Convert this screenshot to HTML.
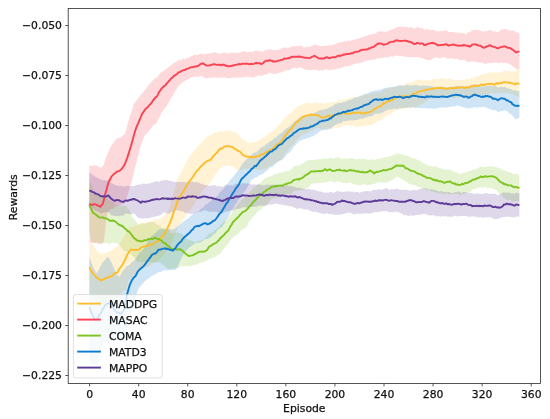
<!DOCTYPE html>
<html lang="en"><head><meta charset="utf-8"><title>Rewards vs Episode</title>
<style>html,body{margin:0;padding:0;background:#fff;}body{width:550px;height:419px;overflow:hidden;}</style>
</head><body>
<svg width="550" height="419" viewBox="0 0 550 419" style="display:block;font-family:'DejaVu Sans','Liberation Sans',sans-serif;font-size:10.8px">
<rect x="0" y="0" width="550" height="419" fill="#ffffff"/>
<defs><clipPath id="ax"><rect x="68.2" y="8.5" width="472.2" height="375.0"/></clipPath></defs>
<g clip-path="url(#ax)">
<polygon points="89.3,242.7 90.5,243.3 91.8,243.6 93.0,243.8 94.2,246.6 95.4,248.5 96.7,250.4 97.9,251.3 99.1,252.8 100.3,253.0 101.6,253.4 102.8,253.6 104.0,253.7 105.2,253.4 106.5,252.3 107.7,252.7 108.9,251.8 110.2,251.5 111.4,250.4 112.6,250.0 113.8,248.3 115.1,247.4 116.3,247.1 117.5,246.7 118.7,244.9 120.0,243.0 121.2,241.0 122.4,239.2 123.6,237.9 124.9,235.2 126.1,233.0 127.3,231.4 128.6,229.5 129.8,226.7 131.0,226.8 132.2,227.2 133.5,226.7 134.7,226.5 135.9,225.1 137.1,224.9 138.4,225.1 139.6,223.9 140.8,222.5 142.0,223.1 143.3,222.8 144.5,223.1 145.7,223.1 147.0,222.5 148.2,222.2 149.4,221.7 150.6,220.7 151.9,220.9 153.1,220.9 154.3,219.8 155.5,219.1 156.8,219.8 158.0,220.5 159.2,218.9 160.4,218.0 161.7,217.6 162.9,217.3 164.1,215.8 165.4,214.7 166.6,213.2 167.8,212.2 169.0,208.8 170.3,204.9 171.5,201.1 172.7,196.7 173.9,191.6 175.2,186.5 176.4,183.0 177.6,179.0 178.8,175.8 180.1,174.1 181.3,171.6 182.5,169.4 183.8,167.0 185.0,164.3 186.2,162.0 187.4,160.3 188.7,157.8 189.9,155.9 191.1,154.4 192.3,153.6 193.6,151.8 194.8,149.9 196.0,148.0 197.2,147.0 198.5,145.9 199.7,144.8 200.9,143.3 202.2,141.9 203.4,140.0 204.6,139.3 205.8,138.3 207.1,136.8 208.3,136.2 209.5,135.6 210.7,135.2 212.0,134.2 213.2,133.5 214.4,132.7 215.7,132.7 216.9,132.4 218.1,131.9 219.3,131.7 220.6,131.0 221.8,131.5 223.0,131.7 224.2,131.2 225.5,131.2 226.7,130.5 227.9,130.3 229.1,130.5 230.4,131.3 231.6,131.6 232.8,131.7 234.1,132.3 235.3,132.6 236.5,132.5 237.7,134.6 239.0,135.3 240.2,136.8 241.4,138.0 242.6,139.3 243.9,139.7 245.1,140.0 246.3,141.7 247.5,142.2 248.8,142.6 250.0,143.0 251.2,142.6 252.5,142.5 253.7,142.5 254.9,142.0 256.1,141.3 257.4,141.1 258.6,140.7 259.8,139.9 261.0,139.0 262.3,138.2 263.5,137.8 264.7,136.6 265.9,136.0 267.2,135.2 268.4,133.5 269.6,132.9 270.9,131.8 272.1,131.4 273.3,130.6 274.5,129.2 275.8,128.0 277.0,126.5 278.2,125.3 279.4,124.0 280.7,123.0 281.9,121.4 283.1,119.9 284.3,117.9 285.6,117.3 286.8,116.6 288.0,114.6 289.3,114.0 290.5,113.1 291.7,112.3 292.9,111.0 294.2,109.6 295.4,108.5 296.6,107.1 297.8,106.5 299.1,106.1 300.3,105.2 301.5,105.1 302.7,104.3 304.0,104.2 305.2,103.3 306.4,102.8 307.7,102.7 308.9,102.9 310.1,103.3 311.3,103.0 312.6,103.5 313.8,103.1 315.0,102.3 316.2,102.5 317.5,102.9 318.7,102.9 319.9,103.1 321.1,102.7 322.4,103.0 323.6,103.7 324.8,103.8 326.1,103.2 327.3,102.8 328.5,102.6 329.7,102.9 331.0,102.7 332.2,102.6 333.4,101.9 334.6,101.7 335.9,101.5 337.1,101.4 338.3,100.3 339.5,100.0 340.8,99.9 342.0,100.3 343.2,99.1 344.5,99.0 345.7,99.3 346.9,98.9 348.1,98.5 349.4,97.6 350.6,97.9 351.8,97.0 353.0,96.9 354.3,97.0 355.5,97.0 356.7,97.3 357.9,96.6 359.2,95.9 360.4,95.9 361.6,95.9 362.9,95.1 364.1,95.2 365.3,94.5 366.5,94.4 367.8,94.0 369.0,94.5 370.2,94.3 371.4,93.6 372.7,93.0 373.9,92.9 375.1,92.4 376.3,92.3 377.6,92.1 378.8,92.1 380.0,92.6 381.3,91.6 382.5,90.7 383.7,89.9 384.9,89.8 386.2,89.1 387.4,88.6 388.6,88.1 389.8,88.3 391.1,87.5 392.3,88.1 393.5,87.1 394.7,86.8 396.0,86.3 397.2,85.9 398.4,86.0 399.7,85.9 400.9,85.5 402.1,85.6 403.3,84.8 404.6,84.1 405.8,84.1 407.0,83.2 408.2,83.1 409.5,83.2 410.7,82.6 411.9,82.1 413.1,81.1 414.4,81.0 415.6,80.5 416.8,80.1 418.1,79.5 419.3,79.7 420.5,79.5 421.7,79.8 423.0,80.0 424.2,80.4 425.4,79.8 426.6,80.4 427.9,80.0 429.1,79.8 430.3,79.8 431.5,80.1 432.8,79.5 434.0,78.6 435.2,79.0 436.5,78.9 437.7,78.5 438.9,79.0 440.1,78.7 441.4,78.1 442.6,78.3 443.8,78.2 445.0,78.7 446.3,78.7 447.5,78.7 448.7,78.8 449.9,78.1 451.2,78.5 452.4,79.5 453.6,79.4 454.9,80.1 456.1,79.8 457.3,80.3 458.5,80.1 459.8,79.7 461.0,79.7 462.2,79.8 463.4,79.8 464.7,79.9 465.9,79.1 467.1,78.3 468.4,79.3 469.6,78.9 470.8,78.4 472.0,78.1 473.3,77.6 474.5,77.2 475.7,76.7 476.9,76.3 478.2,75.9 479.4,76.0 480.6,74.6 481.8,74.5 483.1,74.5 484.3,74.3 485.5,73.9 486.8,73.2 488.0,72.8 489.2,72.5 490.4,71.9 491.7,72.5 492.9,72.3 494.1,72.8 495.3,72.9 496.6,72.2 497.8,73.3 499.0,72.5 500.2,72.3 501.5,73.0 502.7,71.4 503.9,70.6 505.2,70.6 506.4,70.7 507.6,70.8 508.8,71.3 510.1,70.9 511.3,71.4 512.5,71.5 513.7,71.2 515.0,71.9 516.2,70.5 517.4,69.5 519.4,69.7 519.4,97.2 517.4,95.8 516.2,96.1 515.0,95.8 513.7,94.5 512.5,94.1 511.3,94.0 510.1,93.4 508.8,92.9 507.6,93.0 506.4,93.3 505.2,92.6 503.9,92.7 502.7,93.6 501.5,94.2 500.2,92.6 499.0,93.2 497.8,93.3 496.6,92.8 495.3,93.2 494.1,93.8 492.9,93.1 491.7,93.3 490.4,93.0 489.2,93.9 488.0,94.3 486.8,94.5 485.5,95.1 484.3,95.3 483.1,95.6 481.8,95.3 480.6,95.5 479.4,96.0 478.2,96.8 476.9,96.0 475.7,95.9 474.5,96.0 473.3,96.1 472.0,96.6 470.8,96.9 469.6,96.8 468.4,96.8 467.1,97.0 465.9,97.7 464.7,98.4 463.4,98.0 462.2,97.7 461.0,97.4 459.8,97.2 458.5,97.2 457.3,97.2 456.1,97.8 454.9,98.1 453.6,98.3 452.4,98.1 451.2,97.6 449.9,97.2 448.7,98.3 447.5,98.1 446.3,97.5 445.0,97.9 443.8,98.5 442.6,98.7 441.4,98.4 440.1,98.2 438.9,98.7 437.7,98.7 436.5,98.8 435.2,98.9 434.0,98.8 432.8,98.6 431.5,98.8 430.3,99.3 429.1,99.1 427.9,99.9 426.6,101.1 425.4,101.8 424.2,103.0 423.0,103.6 421.7,104.4 420.5,104.8 419.3,105.4 418.1,106.3 416.8,106.7 415.6,106.9 414.4,107.2 413.1,106.8 411.9,107.7 410.7,108.3 409.5,108.2 408.2,108.2 407.0,107.8 405.8,107.9 404.6,108.2 403.3,108.3 402.1,109.4 400.9,109.4 399.7,109.9 398.4,109.8 397.2,109.9 396.0,110.9 394.7,111.2 393.5,111.8 392.3,112.9 391.1,113.6 389.8,114.1 388.6,114.7 387.4,115.0 386.2,116.3 384.9,117.6 383.7,117.7 382.5,119.3 381.3,120.0 380.0,120.6 378.8,121.3 377.6,121.3 376.3,122.4 375.1,122.7 373.9,123.7 372.7,124.4 371.4,125.3 370.2,124.9 369.0,125.6 367.8,125.3 366.5,125.9 365.3,125.5 364.1,125.7 362.9,126.1 361.6,126.6 360.4,126.6 359.2,126.7 357.9,126.3 356.7,126.8 355.5,127.4 354.3,126.3 353.0,125.5 351.8,125.8 350.6,125.8 349.4,126.1 348.1,125.2 346.9,125.2 345.7,125.7 344.5,124.9 343.2,125.4 342.0,126.4 340.8,127.1 339.5,127.5 338.3,127.5 337.1,128.0 335.9,127.4 334.6,127.3 333.4,127.9 332.2,129.0 331.0,129.2 329.7,129.2 328.5,128.3 327.3,128.6 326.1,128.4 324.8,129.1 323.6,129.3 322.4,129.6 321.1,128.7 319.9,128.2 318.7,127.8 317.5,127.7 316.2,127.9 315.0,128.4 313.8,129.7 312.6,130.5 311.3,130.2 310.1,131.3 308.9,132.3 307.7,132.4 306.4,133.4 305.2,133.7 304.0,134.7 302.7,134.2 301.5,136.0 300.3,136.5 299.1,138.1 297.8,139.2 296.6,139.8 295.4,141.5 294.2,143.3 292.9,144.7 291.7,146.2 290.5,147.2 289.3,148.1 288.0,150.5 286.8,152.4 285.6,152.8 284.3,154.6 283.1,156.7 281.9,158.9 280.7,160.3 279.4,161.1 278.2,161.6 277.0,161.8 275.8,162.0 274.5,163.3 273.3,164.6 272.1,165.6 270.9,165.8 269.6,166.5 268.4,166.8 267.2,168.1 265.9,168.1 264.7,168.7 263.5,169.0 262.3,169.2 261.0,169.4 259.8,170.1 258.6,169.7 257.4,169.6 256.1,169.4 254.9,168.7 253.7,168.7 252.5,168.6 251.2,167.9 250.0,167.8 248.8,168.3 247.5,168.9 246.3,168.9 245.1,168.6 243.9,168.5 242.6,170.0 241.4,170.2 240.2,170.1 239.0,170.0 237.7,170.7 236.5,168.9 235.3,168.9 234.1,167.5 232.8,166.8 231.6,166.3 230.4,166.1 229.1,165.5 227.9,165.6 226.7,165.7 225.5,166.0 224.2,165.9 223.0,166.6 221.8,167.9 220.6,167.8 219.3,169.0 218.1,171.0 216.9,172.7 215.7,174.3 214.4,176.5 213.2,178.5 212.0,179.9 210.7,182.0 209.5,183.0 208.3,184.4 207.1,185.7 205.8,187.3 204.6,188.3 203.4,189.7 202.2,191.3 200.9,193.6 199.7,195.5 198.5,197.5 197.2,198.7 196.0,200.5 194.8,202.6 193.6,204.9 192.3,206.7 191.1,208.4 189.9,210.1 188.7,211.5 187.4,213.6 186.2,215.3 185.0,217.4 183.8,219.0 182.5,220.6 181.3,222.9 180.1,224.5 178.8,225.4 177.6,227.8 176.4,231.4 175.2,234.2 173.9,236.4 172.7,240.2 171.5,242.9 170.3,244.8 169.0,246.8 167.8,249.2 166.6,251.0 165.4,252.9 164.1,254.1 162.9,256.1 161.7,256.7 160.4,258.0 159.2,259.3 158.0,260.9 156.8,261.3 155.5,262.1 154.3,263.1 153.1,263.3 151.9,263.9 150.6,265.0 149.4,265.9 148.2,266.0 147.0,266.9 145.7,267.5 144.5,267.5 143.3,267.5 142.0,268.6 140.8,269.6 139.6,270.8 138.4,272.3 137.1,272.7 135.9,273.1 134.7,274.3 133.5,275.3 132.2,277.1 131.0,278.3 129.8,278.8 128.6,281.1 127.3,285.3 126.1,290.2 124.9,290.4 123.6,290.0 122.4,291.6 121.2,293.3 120.0,295.0 118.7,296.4 117.5,298.0 116.3,298.1 115.1,298.3 113.8,299.4 112.6,301.7 111.4,301.4 110.2,302.0 108.9,303.0 107.7,303.5 106.5,303.6 105.2,305.1 104.0,305.8 102.8,305.8 101.6,306.3 100.3,305.9 99.1,304.5 97.9,303.3 96.7,302.6 95.4,300.9 94.2,299.9 93.0,298.1 91.8,296.6 90.5,294.1 89.3,291.9" fill="#fdbe2e" fill-opacity="0.2" stroke="none"/>
<polygon points="89.3,165.4 90.5,165.4 91.8,166.1 93.0,165.6 94.2,165.3 95.4,165.3 96.7,165.3 97.9,166.4 99.1,166.7 100.3,167.7 101.6,167.3 102.8,166.5 104.0,163.5 105.2,159.4 106.5,156.6 107.7,153.8 108.9,150.5 110.2,147.7 111.4,145.5 112.6,144.2 113.8,141.9 115.1,140.3 116.3,139.2 117.5,138.1 118.7,138.3 120.0,137.7 121.2,136.9 122.4,135.7 123.6,134.8 124.9,134.1 126.1,129.9 127.3,125.2 128.6,120.6 129.8,116.4 131.0,113.4 132.2,109.7 133.5,105.0 134.7,102.6 135.9,101.7 137.1,99.9 138.4,98.1 139.6,96.8 140.8,94.4 142.0,93.4 143.3,92.1 144.5,90.3 145.7,89.2 147.0,87.2 148.2,85.6 149.4,84.3 150.6,82.8 151.9,81.5 153.1,80.0 154.3,78.9 155.5,78.0 156.8,77.8 158.0,76.2 159.2,74.2 160.4,73.0 161.7,71.8 162.9,71.3 164.1,70.5 165.4,69.7 166.6,69.1 167.8,67.6 169.0,66.7 170.3,66.0 171.5,64.8 172.7,64.3 173.9,62.7 175.2,62.6 176.4,61.9 177.6,60.8 178.8,60.1 180.1,60.2 181.3,59.4 182.5,59.2 183.8,58.4 185.0,59.4 186.2,58.1 187.4,57.8 188.7,57.7 189.9,56.8 191.1,56.3 192.3,55.9 193.6,55.2 194.8,54.7 196.0,54.7 197.2,55.2 198.5,54.5 199.7,53.9 200.9,53.5 202.2,53.6 203.4,54.2 204.6,54.2 205.8,53.7 207.1,53.8 208.3,53.8 209.5,53.5 210.7,53.0 212.0,53.1 213.2,52.7 214.4,52.2 215.7,52.4 216.9,52.8 218.1,53.4 219.3,53.8 220.6,54.0 221.8,52.9 223.0,52.7 224.2,52.3 225.5,53.0 226.7,53.1 227.9,53.6 229.1,53.3 230.4,52.7 231.6,53.0 232.8,52.4 234.1,52.7 235.3,52.7 236.5,52.9 237.7,52.5 239.0,52.5 240.2,52.8 241.4,51.9 242.6,51.6 243.9,51.1 245.1,51.4 246.3,52.1 247.5,51.9 248.8,52.0 250.0,51.8 251.2,51.6 252.5,52.0 253.7,51.5 254.9,50.8 256.1,50.5 257.4,50.8 258.6,51.0 259.8,51.1 261.0,51.8 262.3,51.5 263.5,51.2 264.7,50.5 265.9,49.7 267.2,49.5 268.4,49.8 269.6,49.3 270.9,49.5 272.1,49.5 273.3,50.1 274.5,49.9 275.8,50.1 277.0,50.2 278.2,49.8 279.4,49.3 280.7,48.8 281.9,48.1 283.1,48.0 284.3,47.2 285.6,47.6 286.8,48.0 288.0,47.4 289.3,47.8 290.5,47.1 291.7,46.4 292.9,46.3 294.2,45.9 295.4,46.3 296.6,46.1 297.8,46.2 299.1,46.1 300.3,45.5 301.5,45.9 302.7,46.5 304.0,47.3 305.2,47.3 306.4,47.1 307.7,46.8 308.9,46.9 310.1,46.7 311.3,46.1 312.6,46.0 313.8,44.7 315.0,44.6 316.2,45.1 317.5,45.5 318.7,45.8 319.9,46.0 321.1,46.2 322.4,46.3 323.6,46.1 324.8,45.9 326.1,45.4 327.3,45.6 328.5,45.6 329.7,45.3 331.0,45.3 332.2,45.2 333.4,44.5 334.6,44.3 335.9,44.2 337.1,43.1 338.3,42.6 339.5,42.8 340.8,42.5 342.0,42.3 343.2,41.7 344.5,41.3 345.7,41.6 346.9,40.9 348.1,40.4 349.4,41.2 350.6,40.7 351.8,40.3 353.0,40.1 354.3,39.5 355.5,39.6 356.7,39.1 357.9,38.8 359.2,38.2 360.4,38.0 361.6,37.4 362.9,37.1 364.1,36.9 365.3,36.0 366.5,36.0 367.8,35.5 369.0,34.6 370.2,34.6 371.4,34.6 372.7,33.9 373.9,34.1 375.1,33.4 376.3,33.0 377.6,31.4 378.8,31.4 380.0,31.4 381.3,31.1 382.5,31.4 383.7,31.5 384.9,31.8 386.2,31.7 387.4,31.2 388.6,31.1 389.8,29.9 391.1,29.7 392.3,29.3 393.5,28.7 394.7,28.5 396.0,27.2 397.2,26.7 398.4,27.1 399.7,26.4 400.9,26.5 402.1,26.8 403.3,26.7 404.6,26.7 405.8,26.9 407.0,26.8 408.2,27.5 409.5,27.4 410.7,27.1 411.9,27.6 413.1,28.2 414.4,28.4 415.6,28.2 416.8,27.1 418.1,27.1 419.3,27.9 420.5,28.2 421.7,28.0 423.0,28.3 424.2,30.1 425.4,29.4 426.6,29.1 427.9,29.3 429.1,29.8 430.3,29.8 431.5,29.9 432.8,29.7 434.0,30.1 435.2,30.7 436.5,31.1 437.7,31.5 438.9,31.2 440.1,31.0 441.4,31.2 442.6,30.7 443.8,30.7 445.0,30.5 446.3,30.1 447.5,31.3 448.7,31.7 449.9,31.9 451.2,31.9 452.4,31.9 453.6,32.0 454.9,32.5 456.1,32.9 457.3,32.3 458.5,32.8 459.8,33.2 461.0,33.1 462.2,33.1 463.4,33.0 464.7,33.8 465.9,34.4 467.1,33.2 468.4,32.1 469.6,32.5 470.8,31.4 472.0,30.2 473.3,30.3 474.5,29.9 475.7,29.8 476.9,30.0 478.2,30.1 479.4,30.5 480.6,30.8 481.8,31.3 483.1,31.8 484.3,31.6 485.5,30.9 486.8,31.0 488.0,30.9 489.2,30.1 490.4,29.9 491.7,30.6 492.9,31.4 494.1,31.3 495.3,31.5 496.6,32.0 497.8,32.0 499.0,31.7 500.2,30.2 501.5,29.3 502.7,29.8 503.9,29.1 505.2,29.0 506.4,29.1 507.6,29.6 508.8,30.2 510.1,30.5 511.3,31.1 512.5,30.6 513.7,30.9 515.0,31.3 516.2,32.6 517.4,32.4 519.4,33.3 519.4,69.6 517.4,69.3 516.2,68.6 515.0,68.0 513.7,67.2 512.5,66.2 511.3,65.2 510.1,64.6 508.8,63.8 507.6,63.4 506.4,62.8 505.2,62.8 503.9,62.9 502.7,62.9 501.5,62.8 500.2,62.8 499.0,63.2 497.8,63.1 496.6,62.5 495.3,62.8 494.1,62.7 492.9,63.1 491.7,63.2 490.4,62.9 489.2,62.7 488.0,63.3 486.8,63.5 485.5,64.1 484.3,63.8 483.1,63.3 481.8,62.6 480.6,62.6 479.4,62.8 478.2,62.3 476.9,62.3 475.7,61.5 474.5,61.9 473.3,62.0 472.0,61.0 470.8,61.5 469.6,62.2 468.4,61.7 467.1,61.9 465.9,60.8 464.7,59.9 463.4,59.6 462.2,60.1 461.0,59.9 459.8,60.2 458.5,59.4 457.3,58.7 456.1,58.7 454.9,59.5 453.6,58.4 452.4,58.4 451.2,58.6 449.9,58.4 448.7,58.6 447.5,58.8 446.3,57.9 445.0,57.5 443.8,57.2 442.6,57.5 441.4,57.9 440.1,58.3 438.9,58.1 437.7,58.0 436.5,57.6 435.2,57.5 434.0,58.1 432.8,58.7 431.5,59.4 430.3,60.2 429.1,59.9 427.9,60.2 426.6,59.8 425.4,59.2 424.2,58.8 423.0,58.1 421.7,58.4 420.5,57.9 419.3,57.6 418.1,57.1 416.8,56.8 415.6,57.5 414.4,56.8 413.1,57.4 411.9,57.3 410.7,56.9 409.5,57.0 408.2,56.9 407.0,56.7 405.8,57.0 404.6,56.4 403.3,56.4 402.1,56.5 400.9,55.9 399.7,55.9 398.4,55.8 397.2,55.6 396.0,55.6 394.7,55.8 393.5,56.7 392.3,56.5 391.1,56.3 389.8,56.7 388.6,57.1 387.4,57.8 386.2,57.3 384.9,57.4 383.7,57.8 382.5,58.0 381.3,57.8 380.0,58.5 378.8,58.2 377.6,58.1 376.3,58.8 375.1,59.2 373.9,59.4 372.7,59.5 371.4,59.9 370.2,60.6 369.0,60.2 367.8,60.2 366.5,60.7 365.3,61.1 364.1,61.8 362.9,62.2 361.6,62.5 360.4,62.7 359.2,63.5 357.9,63.3 356.7,63.3 355.5,63.5 354.3,63.9 353.0,64.6 351.8,65.2 350.6,65.5 349.4,66.1 348.1,66.4 346.9,66.1 345.7,66.3 344.5,66.4 343.2,67.2 342.0,67.6 340.8,68.2 339.5,68.5 338.3,68.3 337.1,69.0 335.9,69.2 334.6,69.5 333.4,69.4 332.2,69.6 331.0,69.5 329.7,70.5 328.5,70.1 327.3,69.3 326.1,69.5 324.8,69.2 323.6,70.6 322.4,70.4 321.1,70.0 319.9,70.6 318.7,71.2 317.5,70.3 316.2,69.9 315.0,69.7 313.8,69.8 312.6,69.8 311.3,69.9 310.1,70.0 308.9,70.1 307.7,70.1 306.4,69.5 305.2,69.8 304.0,69.1 302.7,68.6 301.5,67.9 300.3,67.4 299.1,67.4 297.8,68.1 296.6,68.2 295.4,67.6 294.2,67.7 292.9,68.3 291.7,68.4 290.5,69.4 289.3,70.2 288.0,69.7 286.8,70.3 285.6,70.9 284.3,70.7 283.1,71.7 281.9,72.3 280.7,72.6 279.4,72.8 278.2,73.1 277.0,73.5 275.8,73.8 274.5,73.9 273.3,74.1 272.1,73.1 270.9,73.5 269.6,72.6 268.4,73.2 267.2,74.4 265.9,74.2 264.7,74.7 263.5,75.2 262.3,75.8 261.0,75.9 259.8,75.2 258.6,75.2 257.4,76.1 256.1,76.0 254.9,77.0 253.7,77.5 252.5,77.5 251.2,76.7 250.0,77.3 248.8,77.0 247.5,76.8 246.3,77.1 245.1,77.1 243.9,77.2 242.6,77.2 241.4,77.2 240.2,77.8 239.0,77.2 237.7,77.4 236.5,77.4 235.3,77.7 234.1,77.4 232.8,77.8 231.6,77.8 230.4,78.3 229.1,78.2 227.9,78.3 226.7,78.0 225.5,77.8 224.2,77.2 223.0,77.6 221.8,77.5 220.6,78.2 219.3,77.2 218.1,77.7 216.9,78.0 215.7,77.4 214.4,77.4 213.2,77.4 212.0,77.5 210.7,78.2 209.5,77.8 208.3,78.1 207.1,78.3 205.8,78.1 204.6,78.4 203.4,77.0 202.2,76.2 200.9,75.9 199.7,76.4 198.5,76.8 197.2,77.1 196.0,76.5 194.8,76.7 193.6,76.8 192.3,77.5 191.1,77.6 189.9,78.2 188.7,79.2 187.4,79.6 186.2,80.1 185.0,81.1 183.8,81.8 182.5,82.8 181.3,83.7 180.1,84.4 178.8,85.4 177.6,87.1 176.4,89.7 175.2,91.0 173.9,93.1 172.7,96.0 171.5,97.6 170.3,99.5 169.0,101.9 167.8,104.1 166.6,105.9 165.4,107.9 164.1,109.2 162.9,110.7 161.7,112.4 160.4,115.6 159.2,117.5 158.0,120.1 156.8,122.5 155.5,124.0 154.3,124.7 153.1,125.4 151.9,126.9 150.6,128.7 149.4,130.4 148.2,132.0 147.0,133.3 145.7,134.8 144.5,135.7 143.3,138.5 142.0,142.6 140.8,145.7 139.6,150.1 138.4,155.2 137.1,159.7 135.9,164.7 134.7,169.0 133.5,174.2 132.2,179.4 131.0,183.7 129.8,187.7 128.6,191.6 127.3,196.1 126.1,198.9 124.9,202.6 123.6,203.7 122.4,203.5 121.2,204.5 120.0,205.3 118.7,205.4 117.5,206.4 116.3,206.3 115.1,206.8 113.8,208.1 112.6,208.9 111.4,208.9 110.2,209.4 108.9,210.6 107.7,212.5 106.5,217.6 105.2,228.7 104.0,240.8 102.8,243.4 101.6,244.1 100.3,244.3 99.1,243.4 97.9,243.9 96.7,243.1 95.4,243.2 94.2,242.5 93.0,242.8 91.8,242.9 90.5,242.6 89.3,242.1" fill="#fa4250" fill-opacity="0.2" stroke="none"/>
<polygon points="89.3,179.1 90.5,182.2 91.8,185.6 93.0,189.5 94.2,192.1 95.4,193.1 96.7,193.0 97.9,193.9 99.1,195.2 100.3,195.5 101.6,195.6 102.8,196.1 104.0,196.3 105.2,196.1 106.5,196.3 107.7,197.9 108.9,199.4 110.2,200.9 111.4,201.2 112.6,202.1 113.8,202.9 115.1,204.1 116.3,205.0 117.5,205.6 118.7,205.1 120.0,205.7 121.2,205.4 122.4,205.4 123.6,206.1 124.9,205.8 126.1,205.8 127.3,207.7 128.6,209.1 129.8,211.3 131.0,214.4 132.2,216.6 133.5,218.3 134.7,219.7 135.9,221.2 137.1,222.8 138.4,224.4 139.6,224.8 140.8,224.2 142.0,223.8 143.3,223.3 144.5,223.4 145.7,223.6 147.0,222.9 148.2,222.1 149.4,222.4 150.6,222.1 151.9,222.4 153.1,222.1 154.3,222.6 155.5,223.2 156.8,224.7 158.0,224.9 159.2,225.6 160.4,226.1 161.7,228.0 162.9,229.1 164.1,229.4 165.4,230.1 166.6,230.4 167.8,230.1 169.0,231.2 170.3,232.4 171.5,232.9 172.7,233.2 173.9,233.2 175.2,232.5 176.4,232.3 177.6,232.5 178.8,233.1 180.1,232.9 181.3,233.4 182.5,234.6 183.8,236.2 185.0,237.2 186.2,238.3 187.4,239.3 188.7,240.2 189.9,240.3 191.1,240.5 192.3,241.1 193.6,241.6 194.8,242.1 196.0,242.1 197.2,241.4 198.5,240.6 199.7,240.7 200.9,240.4 202.2,239.9 203.4,239.4 204.6,238.5 205.8,237.5 207.1,236.3 208.3,234.3 209.5,233.3 210.7,233.2 212.0,232.6 213.2,231.5 214.4,230.7 215.7,229.4 216.9,228.7 218.1,227.3 219.3,226.6 220.6,224.6 221.8,223.9 223.0,222.6 224.2,221.4 225.5,220.5 226.7,219.2 227.9,218.4 229.1,216.7 230.4,214.4 231.6,213.2 232.8,210.8 234.1,208.8 235.3,207.5 236.5,206.4 237.7,204.6 239.0,203.0 240.2,201.9 241.4,200.3 242.6,198.9 243.9,198.0 245.1,197.6 246.3,196.4 247.5,195.5 248.8,193.1 250.0,191.6 251.2,190.8 252.5,189.2 253.7,187.9 254.9,186.9 256.1,186.4 257.4,184.7 258.6,183.5 259.8,183.1 261.0,182.7 262.3,180.8 263.5,179.6 264.7,178.5 265.9,178.2 267.2,177.3 268.4,176.7 269.6,176.6 270.9,176.6 272.1,175.7 273.3,174.8 274.5,174.4 275.8,173.3 277.0,174.1 278.2,173.3 279.4,172.3 280.7,172.2 281.9,173.1 283.1,172.5 284.3,171.2 285.6,171.4 286.8,171.1 288.0,171.2 289.3,171.0 290.5,169.7 291.7,169.1 292.9,167.8 294.2,166.3 295.4,166.0 296.6,165.8 297.8,165.7 299.1,165.4 300.3,164.8 301.5,164.3 302.7,163.6 304.0,162.8 305.2,161.6 306.4,160.7 307.7,160.4 308.9,160.1 310.1,160.1 311.3,160.0 312.6,159.7 313.8,160.1 315.0,159.7 316.2,159.9 317.5,159.2 318.7,158.9 319.9,159.2 321.1,159.1 322.4,159.1 323.6,158.6 324.8,157.6 326.1,158.7 327.3,158.9 328.5,158.8 329.7,158.0 331.0,157.8 332.2,158.5 333.4,158.1 334.6,158.5 335.9,157.6 337.1,157.6 338.3,157.5 339.5,157.1 340.8,158.4 342.0,158.9 343.2,158.6 344.5,158.4 345.7,158.6 346.9,158.7 348.1,158.7 349.4,158.5 350.6,158.1 351.8,158.2 353.0,158.5 354.3,158.5 355.5,159.0 356.7,159.8 357.9,159.0 359.2,159.1 360.4,159.1 361.6,159.2 362.9,158.6 364.1,159.0 365.3,158.7 366.5,159.5 367.8,159.8 369.0,160.0 370.2,159.2 371.4,159.6 372.7,159.2 373.9,159.9 375.1,159.9 376.3,159.0 377.6,159.2 378.8,159.0 380.0,158.5 381.3,158.4 382.5,157.7 383.7,157.5 384.9,157.2 386.2,157.3 387.4,156.9 388.6,156.2 389.8,156.1 391.1,156.0 392.3,155.6 393.5,154.5 394.7,154.7 396.0,153.7 397.2,153.4 398.4,153.4 399.7,154.2 400.9,154.2 402.1,154.6 403.3,154.7 404.6,155.4 405.8,155.8 407.0,155.5 408.2,156.3 409.5,157.0 410.7,157.8 411.9,158.1 413.1,158.5 414.4,158.0 415.6,159.1 416.8,159.5 418.1,159.9 419.3,160.2 420.5,161.0 421.7,162.0 423.0,163.0 424.2,163.7 425.4,163.4 426.6,165.0 427.9,165.3 429.1,165.8 430.3,165.8 431.5,166.3 432.8,166.6 434.0,166.8 435.2,166.6 436.5,166.8 437.7,166.9 438.9,168.0 440.1,168.3 441.4,168.6 442.6,168.9 443.8,169.3 445.0,170.0 446.3,169.4 447.5,169.7 448.7,169.4 449.9,169.7 451.2,170.5 452.4,171.1 453.6,171.6 454.9,171.8 456.1,172.4 457.3,172.5 458.5,173.5 459.8,173.9 461.0,173.9 462.2,172.8 463.4,173.3 464.7,172.4 465.9,171.9 467.1,171.7 468.4,171.8 469.6,170.8 470.8,170.7 472.0,169.9 473.3,169.7 474.5,169.7 475.7,169.1 476.9,168.8 478.2,168.1 479.4,167.3 480.6,166.5 481.8,166.9 483.1,167.4 484.3,167.2 485.5,166.6 486.8,166.7 488.0,166.5 489.2,166.3 490.4,166.5 491.7,166.6 492.9,166.2 494.1,166.4 495.3,167.2 496.6,167.3 497.8,167.8 499.0,168.2 500.2,168.6 501.5,169.3 502.7,169.9 503.9,170.6 505.2,170.5 506.4,171.2 507.6,171.6 508.8,172.1 510.1,172.4 511.3,172.6 512.5,173.7 513.7,174.0 515.0,174.3 516.2,174.1 517.4,174.1 519.4,175.1 519.4,201.6 517.4,201.0 516.2,200.9 515.0,201.2 513.7,201.6 512.5,201.4 511.3,200.6 510.1,200.2 508.8,199.6 507.6,199.7 506.4,199.9 505.2,198.6 503.9,198.2 502.7,196.4 501.5,195.3 500.2,194.2 499.0,193.0 497.8,191.9 496.6,190.3 495.3,189.8 494.1,189.1 492.9,188.7 491.7,188.0 490.4,188.1 489.2,187.7 488.0,188.0 486.8,188.0 485.5,186.7 484.3,187.1 483.1,187.5 481.8,187.5 480.6,187.0 479.4,187.9 478.2,187.6 476.9,188.4 475.7,188.6 474.5,189.1 473.3,189.3 472.0,190.1 470.8,191.2 469.6,192.0 468.4,193.3 467.1,193.1 465.9,193.0 464.7,193.8 463.4,194.0 462.2,194.1 461.0,194.7 459.8,195.2 458.5,194.1 457.3,193.9 456.1,194.4 454.9,193.6 453.6,194.2 452.4,194.3 451.2,194.0 449.9,193.9 448.7,194.6 447.5,193.6 446.3,193.6 445.0,194.6 443.8,194.4 442.6,193.5 441.4,193.5 440.1,193.6 438.9,193.6 437.7,192.9 436.5,192.8 435.2,192.4 434.0,191.9 432.8,191.6 431.5,191.2 430.3,190.3 429.1,190.2 427.9,190.3 426.6,190.3 425.4,189.1 424.2,188.8 423.0,188.6 421.7,187.6 420.5,187.7 419.3,187.4 418.1,186.8 416.8,186.1 415.6,185.4 414.4,185.2 413.1,184.8 411.9,184.6 410.7,184.4 409.5,184.4 408.2,183.0 407.0,181.9 405.8,181.5 404.6,181.4 403.3,180.0 402.1,179.3 400.9,179.3 399.7,177.8 398.4,177.3 397.2,176.7 396.0,177.1 394.7,178.4 393.5,179.5 392.3,179.9 391.1,180.7 389.8,181.0 388.6,181.7 387.4,182.6 386.2,182.8 384.9,182.4 383.7,182.5 382.5,182.7 381.3,182.1 380.0,182.2 378.8,182.3 377.6,182.6 376.3,182.6 375.1,183.8 373.9,184.1 372.7,183.9 371.4,184.8 370.2,184.4 369.0,184.8 367.8,185.2 366.5,184.7 365.3,184.7 364.1,184.0 362.9,183.9 361.6,184.9 360.4,185.1 359.2,185.2 357.9,184.7 356.7,185.0 355.5,184.4 354.3,184.2 353.0,183.8 351.8,183.4 350.6,182.2 349.4,182.6 348.1,182.8 346.9,183.5 345.7,183.0 344.5,183.0 343.2,183.3 342.0,182.7 340.8,182.3 339.5,181.7 338.3,181.9 337.1,181.3 335.9,181.8 334.6,182.5 333.4,182.2 332.2,181.6 331.0,181.0 329.7,180.9 328.5,181.5 327.3,182.5 326.1,182.3 324.8,181.9 323.6,182.9 322.4,182.8 321.1,183.0 319.9,183.1 318.7,183.3 317.5,182.7 316.2,183.0 315.0,183.4 313.8,183.8 312.6,183.2 311.3,183.8 310.1,185.4 308.9,187.3 307.7,188.5 306.4,188.1 305.2,188.7 304.0,189.7 302.7,189.8 301.5,190.2 300.3,189.9 299.1,190.7 297.8,190.4 296.6,190.8 295.4,190.5 294.2,191.1 292.9,192.2 291.7,193.3 290.5,193.6 289.3,194.0 288.0,194.3 286.8,194.1 285.6,194.9 284.3,195.1 283.1,196.3 281.9,196.6 280.7,196.0 279.4,196.9 278.2,197.0 277.0,197.6 275.8,197.4 274.5,197.9 273.3,198.4 272.1,197.7 270.9,199.7 269.6,201.1 268.4,202.7 267.2,203.9 265.9,204.6 264.7,205.4 263.5,206.1 262.3,208.3 261.0,209.4 259.8,210.1 258.6,210.8 257.4,212.0 256.1,213.8 254.9,214.6 253.7,215.9 252.5,216.9 251.2,219.5 250.0,220.1 248.8,222.2 247.5,225.0 246.3,227.0 245.1,228.3 243.9,228.2 242.6,229.4 241.4,230.8 240.2,231.2 239.0,233.0 237.7,234.2 236.5,234.9 235.3,235.7 234.1,236.4 232.8,237.6 231.6,239.0 230.4,240.1 229.1,242.3 227.9,244.1 226.7,244.8 225.5,246.7 224.2,248.4 223.0,249.8 221.8,251.4 220.6,252.9 219.3,255.2 218.1,254.6 216.9,255.4 215.7,256.8 214.4,257.5 213.2,257.2 212.0,258.0 210.7,258.8 209.5,258.8 208.3,259.4 207.1,260.5 205.8,260.9 204.6,261.6 203.4,262.4 202.2,262.2 200.9,262.8 199.7,263.3 198.5,263.4 197.2,264.4 196.0,264.9 194.8,264.4 193.6,264.8 192.3,265.5 191.1,266.0 189.9,265.7 188.7,266.4 187.4,265.9 186.2,266.3 185.0,266.1 183.8,266.2 182.5,265.8 181.3,266.5 180.1,266.4 178.8,267.8 177.6,267.9 176.4,268.2 175.2,268.2 173.9,268.4 172.7,268.5 171.5,268.8 170.3,269.2 169.0,269.4 167.8,268.6 166.6,267.9 165.4,266.7 164.1,265.7 162.9,265.0 161.7,264.0 160.4,262.9 159.2,262.5 158.0,262.2 156.8,262.7 155.5,262.1 154.3,262.3 153.1,262.3 151.9,262.1 150.6,262.3 149.4,262.3 148.2,262.3 147.0,262.5 145.7,262.9 144.5,262.1 143.3,262.3 142.0,262.2 140.8,262.1 139.6,261.8 138.4,261.9 137.1,261.7 135.9,260.1 134.7,258.4 133.5,256.8 132.2,256.0 131.0,253.6 129.8,253.4 128.6,252.4 127.3,252.2 126.1,251.4 124.9,250.9 123.6,250.2 122.4,248.9 121.2,247.0 120.0,245.8 118.7,244.3 117.5,243.2 116.3,243.2 115.1,242.9 113.8,242.7 112.6,242.4 111.4,242.8 110.2,243.8 108.9,243.9 107.7,243.2 106.5,242.8 105.2,242.8 104.0,243.1 102.8,242.7 101.6,242.9 100.3,243.0 99.1,243.2 97.9,242.7 96.7,242.5 95.4,242.8 94.2,242.7 93.0,242.7 91.8,242.3 90.5,237.7 89.3,231.6" fill="#7dc41f" fill-opacity="0.2" stroke="none"/>
<polygon points="89.3,256.0 90.5,260.1 91.8,263.8 93.0,267.0 94.2,269.3 95.4,271.1 96.7,273.2 97.9,271.0 99.1,268.9 100.3,266.7 101.6,264.4 102.8,262.1 104.0,261.0 105.2,259.7 106.5,257.7 107.7,256.7 108.9,258.1 110.2,259.9 111.4,261.9 112.6,265.1 113.8,267.8 115.1,270.4 116.3,273.1 117.5,275.2 118.7,276.6 120.0,275.9 121.2,273.8 122.4,271.5 123.6,269.3 124.9,268.9 126.1,266.6 127.3,265.8 128.6,265.3 129.8,264.4 131.0,263.3 132.2,262.1 133.5,260.7 134.7,260.2 135.9,258.2 137.1,256.5 138.4,254.3 139.6,253.1 140.8,251.9 142.0,250.6 143.3,249.3 144.5,247.4 145.7,245.1 147.0,243.0 148.2,240.9 149.4,238.9 150.6,237.6 151.9,235.5 153.1,234.9 154.3,233.8 155.5,232.9 156.8,231.6 158.0,230.0 159.2,229.4 160.4,229.5 161.7,228.5 162.9,229.0 164.1,228.3 165.4,228.6 166.6,228.7 167.8,228.5 169.0,228.7 170.3,229.2 171.5,229.6 172.7,229.6 173.9,228.7 175.2,228.5 176.4,227.0 177.6,226.4 178.8,225.3 180.1,224.4 181.3,223.8 182.5,222.6 183.8,221.0 185.0,220.4 186.2,219.6 187.4,218.7 188.7,218.3 189.9,216.8 191.1,215.7 192.3,214.6 193.6,213.4 194.8,212.6 196.0,212.4 197.2,212.0 198.5,211.4 199.7,210.0 200.9,209.0 202.2,207.9 203.4,207.0 204.6,205.7 205.8,204.0 207.1,204.2 208.3,203.3 209.5,201.8 210.7,200.9 212.0,199.9 213.2,198.6 214.4,198.2 215.7,197.2 216.9,196.5 218.1,195.3 219.3,193.1 220.6,192.1 221.8,190.6 223.0,189.2 224.2,188.1 225.5,186.2 226.7,184.4 227.9,183.4 229.1,181.3 230.4,179.8 231.6,178.4 232.8,176.9 234.1,175.8 235.3,173.7 236.5,172.4 237.7,170.9 239.0,169.6 240.2,167.4 241.4,165.1 242.6,163.8 243.9,162.0 245.1,160.8 246.3,159.6 247.5,158.6 248.8,157.8 250.0,157.0 251.2,154.9 252.5,154.1 253.7,152.9 254.9,152.3 256.1,152.7 257.4,150.8 258.6,149.9 259.8,148.5 261.0,147.6 262.3,146.7 263.5,146.3 264.7,145.5 265.9,144.7 267.2,143.6 268.4,142.9 269.6,141.5 270.9,141.1 272.1,140.8 273.3,138.7 274.5,138.2 275.8,137.5 277.0,136.2 278.2,135.4 279.4,134.0 280.7,133.3 281.9,132.5 283.1,131.6 284.3,130.0 285.6,129.1 286.8,127.9 288.0,127.8 289.3,126.5 290.5,125.2 291.7,124.9 292.9,123.0 294.2,121.6 295.4,120.8 296.6,120.2 297.8,119.3 299.1,118.2 300.3,117.9 301.5,117.6 302.7,117.3 304.0,116.9 305.2,117.3 306.4,116.6 307.7,115.9 308.9,115.7 310.1,114.6 311.3,114.3 312.6,113.7 313.8,113.2 315.0,112.3 316.2,112.3 317.5,111.6 318.7,110.8 319.9,110.3 321.1,109.9 322.4,109.5 323.6,109.7 324.8,109.4 326.1,108.7 327.3,108.8 328.5,108.3 329.7,107.0 331.0,107.1 332.2,106.2 333.4,105.4 334.6,104.4 335.9,104.0 337.1,103.6 338.3,102.9 339.5,102.9 340.8,102.9 342.0,103.0 343.2,101.9 344.5,102.0 345.7,101.7 346.9,101.1 348.1,99.9 349.4,100.1 350.6,99.5 351.8,99.4 353.0,98.7 354.3,97.8 355.5,97.6 356.7,97.1 357.9,97.5 359.2,96.3 360.4,95.6 361.6,95.6 362.9,95.2 364.1,93.8 365.3,93.8 366.5,93.7 367.8,93.1 369.0,92.8 370.2,91.4 371.4,91.4 372.7,90.8 373.9,90.8 375.1,90.2 376.3,90.2 377.6,90.2 378.8,89.5 380.0,89.9 381.3,89.4 382.5,89.0 383.7,88.3 384.9,87.8 386.2,87.8 387.4,87.5 388.6,87.4 389.8,87.0 391.1,87.0 392.3,87.0 393.5,86.8 394.7,86.7 396.0,86.6 397.2,86.0 398.4,85.5 399.7,85.0 400.9,85.2 402.1,85.5 403.3,85.8 404.6,85.5 405.8,85.4 407.0,84.6 408.2,85.2 409.5,85.6 410.7,85.5 411.9,85.3 413.1,85.5 414.4,85.1 415.6,85.0 416.8,85.3 418.1,85.1 419.3,85.7 420.5,85.8 421.7,86.1 423.0,85.1 424.2,85.8 425.4,85.9 426.6,85.1 427.9,86.0 429.1,85.7 430.3,86.2 431.5,86.1 432.8,86.4 434.0,87.0 435.2,87.0 436.5,87.2 437.7,87.2 438.9,87.6 440.1,86.5 441.4,86.8 442.6,86.7 443.8,87.0 445.0,87.3 446.3,87.2 447.5,87.4 448.7,87.5 449.9,87.2 451.2,86.8 452.4,86.5 453.6,86.4 454.9,86.2 456.1,85.7 457.3,86.0 458.5,85.9 459.8,86.3 461.0,86.0 462.2,85.9 463.4,86.1 464.7,86.4 465.9,85.8 467.1,86.4 468.4,86.4 469.6,85.6 470.8,84.8 472.0,85.0 473.3,84.5 474.5,84.0 475.7,84.9 476.9,84.5 478.2,84.9 479.4,85.4 480.6,86.0 481.8,86.5 483.1,86.4 484.3,86.4 485.5,85.7 486.8,85.8 488.0,86.3 489.2,86.0 490.4,85.8 491.7,85.9 492.9,86.5 494.1,86.0 495.3,86.0 496.6,86.8 497.8,87.3 499.0,87.2 500.2,87.1 501.5,87.1 502.7,87.1 503.9,87.2 505.2,86.7 506.4,87.9 507.6,88.1 508.8,88.8 510.1,89.0 511.3,88.9 512.5,90.2 513.7,90.4 515.0,90.3 516.2,90.6 517.4,91.0 519.4,91.4 519.4,117.9 517.4,118.4 516.2,119.6 515.0,118.9 513.7,117.0 512.5,116.1 511.3,114.5 510.1,113.8 508.8,112.9 507.6,111.5 506.4,111.0 505.2,110.2 503.9,110.4 502.7,111.4 501.5,111.1 500.2,111.1 499.0,112.0 497.8,111.8 496.6,110.7 495.3,110.1 494.1,110.0 492.9,110.6 491.7,109.8 490.4,108.8 489.2,109.1 488.0,108.3 486.8,107.8 485.5,107.4 484.3,107.3 483.1,106.6 481.8,107.5 480.6,107.3 479.4,107.0 478.2,107.5 476.9,107.5 475.7,107.8 474.5,106.9 473.3,107.5 472.0,107.9 470.8,107.9 469.6,107.8 468.4,108.9 467.1,107.9 465.9,107.8 464.7,107.6 463.4,107.4 462.2,106.9 461.0,106.5 459.8,105.9 458.5,105.8 457.3,105.5 456.1,106.1 454.9,106.4 453.6,106.5 452.4,106.2 451.2,106.5 449.9,107.2 448.7,107.1 447.5,107.6 446.3,107.4 445.0,107.6 443.8,107.5 442.6,107.5 441.4,107.3 440.1,107.7 438.9,107.8 437.7,107.9 436.5,108.7 435.2,108.5 434.0,108.9 432.8,108.5 431.5,108.3 430.3,108.2 429.1,108.5 427.9,108.8 426.6,108.3 425.4,108.1 424.2,108.0 423.0,107.9 421.7,108.6 420.5,107.9 419.3,108.1 418.1,107.8 416.8,108.1 415.6,107.9 414.4,107.9 413.1,107.0 411.9,107.4 410.7,107.5 409.5,107.5 408.2,107.5 407.0,107.8 405.8,107.9 404.6,107.7 403.3,108.4 402.1,108.3 400.9,108.0 399.7,107.8 398.4,109.0 397.2,108.9 396.0,109.1 394.7,108.8 393.5,108.7 392.3,109.5 391.1,109.4 389.8,109.4 388.6,109.4 387.4,109.7 386.2,110.6 384.9,111.1 383.7,111.9 382.5,113.1 381.3,112.8 380.0,113.4 378.8,113.8 377.6,113.9 376.3,113.8 375.1,113.8 373.9,114.8 372.7,115.6 371.4,116.5 370.2,116.2 369.0,116.6 367.8,117.2 366.5,117.3 365.3,117.4 364.1,117.8 362.9,118.7 361.6,118.8 360.4,118.5 359.2,119.3 357.9,119.8 356.7,119.9 355.5,120.0 354.3,120.3 353.0,120.4 351.8,120.8 350.6,120.1 349.4,120.6 348.1,120.5 346.9,121.2 345.7,121.0 344.5,121.4 343.2,120.9 342.0,122.3 340.8,123.4 339.5,123.6 338.3,123.3 337.1,124.3 335.9,124.7 334.6,125.3 333.4,126.5 332.2,127.1 331.0,128.7 329.7,128.4 328.5,129.6 327.3,130.1 326.1,129.9 324.8,129.7 323.6,130.3 322.4,130.0 321.1,130.7 319.9,131.3 318.7,132.1 317.5,133.2 316.2,134.3 315.0,134.7 313.8,136.3 312.6,136.3 311.3,136.4 310.1,137.1 308.9,138.0 307.7,138.5 306.4,138.2 305.2,139.2 304.0,139.1 302.7,140.0 301.5,140.2 300.3,140.4 299.1,141.3 297.8,142.8 296.6,143.8 295.4,145.2 294.2,146.2 292.9,148.3 291.7,149.8 290.5,151.0 289.3,152.8 288.0,153.5 286.8,154.6 285.6,156.7 284.3,157.7 283.1,159.2 281.9,160.1 280.7,160.6 279.4,160.8 278.2,161.5 277.0,162.9 275.8,163.7 274.5,164.7 273.3,165.8 272.1,167.4 270.9,167.0 269.6,167.5 268.4,169.3 267.2,170.2 265.9,171.4 264.7,172.0 263.5,173.4 262.3,173.9 261.0,174.8 259.8,174.8 258.6,176.1 257.4,177.1 256.1,177.4 254.9,177.7 253.7,178.7 252.5,179.3 251.2,179.9 250.0,182.4 248.8,184.7 247.5,186.9 246.3,189.4 245.1,191.1 243.9,192.2 242.6,193.6 241.4,195.0 240.2,197.5 239.0,199.0 237.7,200.7 236.5,202.8 235.3,204.4 234.1,206.8 232.8,208.7 231.6,210.9 230.4,212.5 229.1,215.2 227.9,218.0 226.7,219.0 225.5,221.4 224.2,223.8 223.0,225.8 221.8,227.0 220.6,227.9 219.3,228.3 218.1,229.7 216.9,230.9 215.7,232.9 214.4,233.9 213.2,234.7 212.0,236.0 210.7,237.6 209.5,237.9 208.3,238.4 207.1,238.9 205.8,238.9 204.6,239.4 203.4,240.7 202.2,241.1 200.9,242.2 199.7,242.3 198.5,243.1 197.2,242.6 196.0,243.2 194.8,243.2 193.6,244.4 192.3,245.3 191.1,246.2 189.9,247.0 188.7,248.2 187.4,249.5 186.2,250.6 185.0,252.4 183.8,254.0 182.5,255.7 181.3,258.8 180.1,261.3 178.8,263.9 177.6,266.9 176.4,269.1 175.2,270.1 173.9,269.9 172.7,269.8 171.5,269.9 170.3,270.2 169.0,270.2 167.8,270.1 166.6,270.7 165.4,270.1 164.1,270.3 162.9,270.7 161.7,271.6 160.4,272.3 159.2,272.3 158.0,272.3 156.8,273.1 155.5,274.5 154.3,274.6 153.1,275.6 151.9,275.3 150.6,277.3 149.4,277.8 148.2,278.4 147.0,279.4 145.7,280.6 144.5,281.5 143.3,282.7 142.0,284.7 140.8,285.7 139.6,286.9 138.4,289.1 137.1,292.0 135.9,296.6 134.7,299.5 133.5,303.7 132.2,309.3 131.0,315.4 129.8,320.3 128.6,324.6 127.3,329.1 126.1,333.8 124.9,336.0 123.6,336.8 122.4,337.3 121.2,338.3 120.0,340.0 118.7,339.3 117.5,339.6 116.3,340.2 115.1,340.1 113.8,340.2 112.6,340.4 111.4,340.9 110.2,340.6 108.9,340.5 107.7,341.0 106.5,341.3 105.2,341.7 104.0,343.1 102.8,345.1 101.6,347.4 100.3,353.8 99.1,360.5 97.9,362.7 96.7,363.8 95.4,364.4 94.2,364.6 93.0,364.8 91.8,364.3 90.5,363.0 89.3,362.0" fill="#0e7acf" fill-opacity="0.2" stroke="none"/>
<polygon points="89.3,172.3 90.5,173.4 91.8,174.4 93.0,175.1 94.2,175.7 95.4,177.1 96.7,177.5 97.9,177.8 99.1,178.7 100.3,179.3 101.6,180.0 102.8,180.2 104.0,180.3 105.2,180.3 106.5,180.5 107.7,180.5 108.9,181.2 110.2,182.5 111.4,183.0 112.6,183.8 113.8,184.1 115.1,185.2 116.3,185.1 117.5,185.8 118.7,186.0 120.0,186.1 121.2,185.8 122.4,186.0 123.6,186.8 124.9,186.2 126.1,185.8 127.3,186.1 128.6,185.9 129.8,186.3 131.0,186.1 132.2,186.0 133.5,186.2 134.7,185.9 135.9,184.9 137.1,184.9 138.4,184.7 139.6,184.0 140.8,184.9 142.0,183.7 143.3,183.6 144.5,183.5 145.7,184.5 147.0,184.0 148.2,183.3 149.4,183.7 150.6,182.9 151.9,182.8 153.1,182.4 154.3,181.6 155.5,181.6 156.8,180.9 158.0,181.7 159.2,181.8 160.4,181.0 161.7,180.6 162.9,180.2 164.1,179.8 165.4,180.2 166.6,180.0 167.8,180.2 169.0,180.5 170.3,181.3 171.5,180.7 172.7,181.7 173.9,181.6 175.2,182.3 176.4,181.7 177.6,182.1 178.8,181.9 180.1,182.0 181.3,182.0 182.5,181.9 183.8,181.6 185.0,182.2 186.2,182.6 187.4,181.9 188.7,181.6 189.9,181.7 191.1,181.5 192.3,181.5 193.6,182.0 194.8,182.2 196.0,182.0 197.2,182.1 198.5,182.8 199.7,183.1 200.9,184.1 202.2,183.5 203.4,184.4 204.6,185.1 205.8,184.9 207.1,185.2 208.3,186.1 209.5,185.5 210.7,185.8 212.0,185.5 213.2,185.3 214.4,185.0 215.7,185.7 216.9,186.2 218.1,186.1 219.3,186.3 220.6,186.2 221.8,186.7 223.0,187.1 224.2,185.8 225.5,185.9 226.7,184.6 227.9,185.0 229.1,185.6 230.4,185.5 231.6,185.2 232.8,185.7 234.1,184.9 235.3,184.0 236.5,183.4 237.7,184.3 239.0,184.5 240.2,184.3 241.4,184.2 242.6,183.1 243.9,183.3 245.1,183.3 246.3,183.3 247.5,183.3 248.8,183.4 250.0,184.1 251.2,184.4 252.5,184.7 253.7,184.3 254.9,184.5 256.1,184.5 257.4,184.7 258.6,184.6 259.8,184.4 261.0,184.9 262.3,184.9 263.5,185.4 264.7,185.4 265.9,184.6 267.2,184.5 268.4,184.9 269.6,184.5 270.9,185.0 272.1,184.8 273.3,184.5 274.5,184.8 275.8,184.6 277.0,184.8 278.2,185.7 279.4,185.3 280.7,185.0 281.9,185.2 283.1,185.3 284.3,185.8 285.6,185.8 286.8,185.2 288.0,185.4 289.3,186.2 290.5,185.7 291.7,186.1 292.9,186.9 294.2,186.4 295.4,187.0 296.6,187.5 297.8,188.1 299.1,187.4 300.3,187.5 301.5,188.4 302.7,188.7 304.0,188.8 305.2,188.9 306.4,189.3 307.7,188.9 308.9,189.1 310.1,189.4 311.3,189.7 312.6,189.4 313.8,190.0 315.0,190.3 316.2,190.6 317.5,191.0 318.7,191.2 319.9,191.4 321.1,191.6 322.4,191.9 323.6,192.5 324.8,192.7 326.1,192.5 327.3,192.5 328.5,192.8 329.7,192.3 331.0,191.8 332.2,192.5 333.4,192.6 334.6,192.4 335.9,191.6 337.1,191.0 338.3,191.3 339.5,192.0 340.8,191.4 342.0,191.6 343.2,192.0 344.5,191.8 345.7,191.8 346.9,191.0 348.1,191.7 349.4,191.4 350.6,191.4 351.8,191.8 353.0,191.6 354.3,192.6 355.5,192.1 356.7,192.0 357.9,192.1 359.2,192.8 360.4,192.3 361.6,192.2 362.9,191.4 364.1,191.5 365.3,191.0 366.5,191.1 367.8,191.2 369.0,191.3 370.2,191.4 371.4,191.1 372.7,189.9 373.9,189.9 375.1,189.7 376.3,190.1 377.6,189.7 378.8,188.9 380.0,189.4 381.3,189.5 382.5,189.7 383.7,189.1 384.9,188.8 386.2,188.2 387.4,188.5 388.6,189.7 389.8,189.9 391.1,189.0 392.3,189.3 393.5,189.6 394.7,189.3 396.0,189.1 397.2,188.3 398.4,189.5 399.7,189.5 400.9,189.5 402.1,190.0 403.3,189.8 404.6,190.0 405.8,189.5 407.0,190.1 408.2,190.3 409.5,190.6 410.7,190.9 411.9,190.1 413.1,189.9 414.4,190.0 415.6,190.2 416.8,190.2 418.1,189.9 419.3,189.1 420.5,188.8 421.7,188.8 423.0,188.2 424.2,188.0 425.4,188.5 426.6,188.5 427.9,189.3 429.1,189.8 430.3,189.0 431.5,189.4 432.8,189.6 434.0,189.8 435.2,189.9 436.5,190.7 437.7,190.7 438.9,191.4 440.1,191.5 441.4,191.1 442.6,191.4 443.8,192.2 445.0,192.1 446.3,191.6 447.5,192.4 448.7,191.7 449.9,192.2 451.2,192.9 452.4,193.2 453.6,192.7 454.9,192.0 456.1,192.2 457.3,192.1 458.5,191.3 459.8,192.1 461.0,192.7 462.2,192.8 463.4,191.9 464.7,192.1 465.9,192.3 467.1,192.4 468.4,193.0 469.6,192.9 470.8,192.6 472.0,193.5 473.3,193.6 474.5,193.9 475.7,193.4 476.9,193.2 478.2,193.8 479.4,193.8 480.6,193.7 481.8,193.7 483.1,193.9 484.3,193.2 485.5,193.1 486.8,193.3 488.0,193.7 489.2,193.6 490.4,194.0 491.7,193.6 492.9,193.8 494.1,193.7 495.3,193.7 496.6,194.9 497.8,195.0 499.0,194.8 500.2,194.2 501.5,193.5 502.7,193.0 503.9,191.8 505.2,193.0 506.4,192.7 507.6,192.6 508.8,192.5 510.1,192.8 511.3,193.4 512.5,193.3 513.7,194.0 515.0,193.5 516.2,192.7 517.4,192.8 519.4,193.3 519.4,216.7 517.4,216.5 516.2,216.4 515.0,217.3 513.7,217.5 512.5,217.0 511.3,216.9 510.1,216.9 508.8,216.7 507.6,216.7 506.4,216.6 505.2,217.0 503.9,216.8 502.7,217.5 501.5,217.4 500.2,217.9 499.0,218.2 497.8,219.0 496.6,218.9 495.3,219.0 494.1,219.2 492.9,218.3 491.7,217.7 490.4,217.3 489.2,217.0 488.0,217.5 486.8,217.6 485.5,216.9 484.3,217.4 483.1,218.1 481.8,217.2 480.6,217.3 479.4,217.4 478.2,217.3 476.9,216.8 475.7,216.8 474.5,216.8 473.3,216.3 472.0,216.5 470.8,216.6 469.6,216.9 468.4,216.8 467.1,216.2 465.9,216.0 464.7,215.9 463.4,215.7 462.2,216.0 461.0,216.1 459.8,216.2 458.5,216.3 457.3,216.5 456.1,215.6 454.9,215.7 453.6,216.3 452.4,216.8 451.2,217.0 449.9,216.8 448.7,216.5 447.5,216.9 446.3,216.1 445.0,216.4 443.8,216.4 442.6,216.1 441.4,216.5 440.1,216.5 438.9,216.0 437.7,216.2 436.5,216.7 435.2,215.6 434.0,215.4 432.8,215.3 431.5,215.4 430.3,215.2 429.1,215.7 427.9,215.0 426.6,214.4 425.4,214.4 424.2,213.4 423.0,214.0 421.7,214.3 420.5,214.7 419.3,215.0 418.1,214.5 416.8,214.9 415.6,215.3 414.4,215.5 413.1,215.5 411.9,216.0 410.7,215.2 409.5,215.8 408.2,216.2 407.0,215.2 405.8,215.1 404.6,215.5 403.3,215.0 402.1,213.8 400.9,213.2 399.7,212.8 398.4,212.2 397.2,211.4 396.0,212.2 394.7,211.6 393.5,212.4 392.3,212.1 391.1,211.9 389.8,212.2 388.6,212.3 387.4,211.3 386.2,211.0 384.9,211.6 383.7,211.0 382.5,211.3 381.3,211.4 380.0,211.9 378.8,211.7 377.6,211.8 376.3,212.5 375.1,211.7 373.9,212.2 372.7,213.0 371.4,213.4 370.2,213.4 369.0,213.4 367.8,213.5 366.5,213.4 365.3,213.3 364.1,213.2 362.9,213.5 361.6,214.1 360.4,213.6 359.2,214.0 357.9,213.6 356.7,213.8 355.5,213.7 354.3,214.8 353.0,213.9 351.8,213.5 350.6,212.5 349.4,212.8 348.1,212.9 346.9,212.6 345.7,213.3 344.5,213.8 343.2,213.9 342.0,213.9 340.8,214.5 339.5,215.3 338.3,214.5 337.1,214.8 335.9,215.1 334.6,214.8 333.4,214.3 332.2,214.5 331.0,213.5 329.7,214.2 328.5,214.3 327.3,213.1 326.1,213.6 324.8,213.9 323.6,213.7 322.4,213.8 321.1,213.5 319.9,213.1 318.7,212.6 317.5,213.1 316.2,211.7 315.0,211.5 313.8,212.2 312.6,211.5 311.3,211.5 310.1,210.5 308.9,210.1 307.7,209.8 306.4,209.6 305.2,209.3 304.0,209.4 302.7,208.8 301.5,208.7 300.3,208.1 299.1,208.2 297.8,209.0 296.6,208.8 295.4,207.8 294.2,207.8 292.9,207.0 291.7,206.2 290.5,206.2 289.3,206.3 288.0,205.7 286.8,205.7 285.6,205.3 284.3,205.3 283.1,205.0 281.9,204.5 280.7,204.7 279.4,204.3 278.2,204.1 277.0,203.5 275.8,203.4 274.5,203.9 273.3,204.0 272.1,204.6 270.9,204.6 269.6,204.5 268.4,204.8 267.2,205.4 265.9,205.4 264.7,206.5 263.5,206.2 262.3,205.5 261.0,205.5 259.8,205.6 258.6,205.8 257.4,206.4 256.1,206.6 254.9,206.7 253.7,206.7 252.5,206.5 251.2,207.0 250.0,206.8 248.8,206.7 247.5,207.1 246.3,207.3 245.1,207.5 243.9,207.4 242.6,207.0 241.4,208.0 240.2,208.4 239.0,208.8 237.7,209.1 236.5,209.1 235.3,209.2 234.1,209.9 232.8,210.4 231.6,210.1 230.4,210.4 229.1,211.0 227.9,211.2 226.7,210.9 225.5,211.9 224.2,212.3 223.0,212.4 221.8,212.9 220.6,212.5 219.3,212.7 218.1,212.6 216.9,211.8 215.7,211.7 214.4,211.5 213.2,211.6 212.0,211.8 210.7,211.9 209.5,211.4 208.3,211.6 207.1,211.0 205.8,210.5 204.6,210.5 203.4,210.5 202.2,210.7 200.9,211.7 199.7,211.4 198.5,211.9 197.2,212.3 196.0,212.5 194.8,213.3 193.6,213.7 192.3,213.6 191.1,214.2 189.9,213.3 188.7,213.7 187.4,213.1 186.2,212.8 185.0,212.9 183.8,212.1 182.5,211.0 181.3,211.4 180.1,210.9 178.8,210.3 177.6,209.9 176.4,210.4 175.2,210.8 173.9,211.6 172.7,211.9 171.5,211.8 170.3,212.9 169.0,213.3 167.8,214.0 166.6,213.2 165.4,213.0 164.1,212.3 162.9,212.8 161.7,214.0 160.4,215.2 159.2,215.6 158.0,216.1 156.8,216.1 155.5,216.5 154.3,216.6 153.1,217.2 151.9,217.3 150.6,217.5 149.4,218.0 148.2,218.4 147.0,218.4 145.7,218.3 144.5,218.1 143.3,218.6 142.0,218.6 140.8,218.7 139.6,217.9 138.4,217.8 137.1,216.8 135.9,215.1 134.7,214.0 133.5,213.5 132.2,213.9 131.0,214.3 129.8,214.1 128.6,213.8 127.3,213.7 126.1,213.6 124.9,214.1 123.6,215.4 122.4,215.9 121.2,215.3 120.0,216.6 118.7,216.0 117.5,215.9 116.3,215.8 115.1,216.3 113.8,215.4 112.6,215.5 111.4,215.2 110.2,213.9 108.9,212.3 107.7,212.0 106.5,212.3 105.2,212.5 104.0,212.5 102.8,213.0 101.6,213.2 100.3,213.3 99.1,212.3 97.9,211.7 96.7,211.1 95.4,211.1 94.2,209.8 93.0,209.1 91.8,209.0 90.5,208.3 89.3,207.7" fill="#5c3a97" fill-opacity="0.2" stroke="none"/>
<polyline points="89.3,267.2 90.5,269.8 91.8,271.9 93.0,273.3 94.2,274.9 95.4,276.0 96.7,277.8 97.9,278.0 99.1,279.2 100.3,280.0 101.6,280.3 102.8,279.7 104.0,279.2 105.2,278.3 106.5,277.5 107.7,277.7 108.9,277.0 110.2,276.7 111.4,276.1 112.6,275.6 113.8,274.1 115.1,273.0 116.3,272.8 117.5,272.3 118.7,269.8 120.0,268.2 121.2,266.6 122.4,264.7 123.6,262.8 124.9,259.9 126.1,257.5 127.3,254.5 128.6,252.8 129.8,250.6 131.0,249.4 132.2,249.8 133.5,250.0 134.7,249.9 135.9,249.6 137.1,249.9 138.4,249.6 139.6,249.0 140.8,247.6 142.0,247.2 143.3,246.7 144.5,246.3 145.7,246.3 147.0,245.6 148.2,245.3 149.4,245.6 150.6,244.7 151.9,244.3 153.1,244.0 154.3,243.1 155.5,241.9 156.8,241.5 158.0,241.1 159.2,239.1 160.4,238.0 161.7,236.8 162.9,236.3 164.1,234.2 165.4,232.2 166.6,229.6 167.8,227.4 169.0,224.9 170.3,221.9 171.5,218.9 172.7,215.3 173.9,211.2 175.2,208.3 176.4,205.0 177.6,200.5 178.8,197.6 180.1,196.3 181.3,194.4 182.5,192.5 183.8,190.8 185.0,188.4 186.2,186.2 187.4,184.6 188.7,182.4 189.9,180.8 191.1,179.2 192.3,177.6 193.6,175.9 194.8,173.5 196.0,172.0 197.2,170.6 198.5,169.3 199.7,167.9 200.9,166.4 202.2,165.3 203.4,163.9 204.6,163.1 205.8,162.1 207.1,161.1 208.3,160.5 209.5,160.3 210.7,159.7 212.0,158.1 213.2,156.4 214.4,155.0 215.7,153.8 216.9,152.5 218.1,151.2 219.3,149.7 220.6,148.5 221.8,148.7 223.0,148.0 224.2,146.5 225.5,146.4 226.7,146.1 227.9,146.4 229.1,146.3 230.4,146.7 231.6,146.7 232.8,147.3 234.1,148.4 235.3,149.4 236.5,149.4 237.7,150.9 239.0,151.0 240.2,151.8 241.4,153.0 242.6,154.6 243.9,155.7 245.1,155.8 246.3,156.6 247.5,156.7 248.8,156.8 250.0,157.3 251.2,156.7 252.5,157.4 253.7,157.4 254.9,156.8 256.1,156.5 257.4,156.3 258.6,156.2 259.8,155.7 261.0,154.9 262.3,154.1 263.5,154.3 264.7,153.1 265.9,152.1 267.2,152.0 268.4,150.6 269.6,150.2 270.9,149.7 272.1,149.4 273.3,148.4 274.5,146.9 275.8,145.2 277.0,144.7 278.2,143.9 279.4,143.2 280.7,142.3 281.9,140.7 283.1,138.7 284.3,136.6 285.6,135.2 286.8,133.9 288.0,131.9 289.3,130.6 290.5,129.5 291.7,128.5 292.9,126.4 294.2,124.8 295.4,123.3 296.6,121.8 297.8,121.2 299.1,120.3 300.3,118.8 301.5,117.8 302.7,116.7 304.0,116.6 305.2,115.9 306.4,115.6 307.7,115.2 308.9,115.4 310.1,115.1 311.3,114.3 312.6,114.7 313.8,114.9 315.0,114.9 316.2,115.0 317.5,115.1 318.7,115.5 319.9,116.5 321.1,117.1 322.4,117.6 323.6,117.4 324.8,117.1 326.1,116.6 327.3,116.3 328.5,115.5 329.7,116.0 331.0,116.5 332.2,115.9 333.4,115.2 334.6,115.2 335.9,114.9 337.1,114.9 338.3,113.8 339.5,114.2 340.8,114.2 342.0,113.6 343.2,112.7 344.5,112.9 345.7,113.8 346.9,113.9 348.1,113.6 349.4,113.9 350.6,113.8 351.8,112.9 353.0,112.7 354.3,112.8 355.5,112.7 356.7,112.7 357.9,112.7 359.2,112.4 360.4,112.5 361.6,113.5 362.9,113.5 364.1,113.6 365.3,112.6 366.5,112.8 367.8,112.4 369.0,112.5 370.2,111.7 371.4,111.3 372.7,110.5 373.9,109.5 375.1,108.7 376.3,108.0 377.6,107.2 378.8,106.6 380.0,106.4 381.3,105.5 382.5,104.6 383.7,103.2 384.9,103.4 386.2,102.4 387.4,101.1 388.6,101.1 389.8,101.0 391.1,100.1 392.3,100.2 393.5,98.8 394.7,97.8 396.0,97.5 397.2,97.0 398.4,96.6 399.7,96.8 400.9,96.6 402.1,97.0 403.3,96.0 404.6,96.2 405.8,96.8 407.0,96.4 408.2,96.3 409.5,96.4 410.7,95.9 411.9,95.4 413.1,94.1 414.4,93.4 415.6,93.5 416.8,92.7 418.1,91.7 419.3,91.6 420.5,91.3 421.7,91.1 423.0,90.6 424.2,90.5 425.4,89.7 426.6,90.1 427.9,89.7 429.1,89.2 430.3,89.2 431.5,88.9 432.8,88.8 434.0,88.4 435.2,88.2 436.5,88.0 437.7,87.8 438.9,88.1 440.1,88.0 441.4,88.0 442.6,88.3 443.8,88.1 445.0,88.4 446.3,88.7 447.5,88.9 448.7,88.8 449.9,87.7 451.2,88.1 452.4,88.3 453.6,88.0 454.9,88.3 456.1,88.1 457.3,87.6 458.5,87.5 459.8,87.6 461.0,87.4 462.2,87.3 463.4,87.6 464.7,88.1 465.9,87.6 467.1,87.2 468.4,87.7 469.6,87.1 470.8,86.6 472.0,86.2 473.3,86.0 474.5,85.8 475.7,85.7 476.9,85.9 478.2,85.7 479.4,85.6 480.6,84.5 481.8,84.6 483.1,85.3 484.3,84.5 485.5,84.7 486.8,84.1 488.0,84.0 489.2,84.0 490.4,83.6 491.7,84.0 492.9,84.1 494.1,84.9 495.3,84.0 496.6,83.1 497.8,83.9 499.0,83.3 500.2,82.9 501.5,83.3 502.7,82.6 503.9,82.0 505.2,82.1 506.4,82.4 507.6,82.5 508.8,82.9 510.1,82.5 511.3,83.3 512.5,83.4 513.7,83.5 515.0,84.4 516.2,83.6 517.4,83.3 519.4,83.8" fill="none" stroke="#fdbe2e" stroke-width="1.9" stroke-linejoin="round" stroke-linecap="butt"/>
<polyline points="89.3,204.3 90.5,204.2 91.8,205.1 93.0,204.6 94.2,204.1 95.4,204.4 96.7,204.9 97.9,205.6 99.1,205.9 100.3,206.8 101.6,205.2 102.8,203.9 104.0,199.2 105.2,194.1 106.5,189.7 107.7,185.1 108.9,181.4 110.2,179.3 111.4,176.6 112.6,175.4 113.8,174.1 115.1,173.3 116.3,172.1 117.5,171.4 118.7,171.1 120.0,170.5 121.2,169.3 122.4,168.0 123.6,166.3 124.9,164.0 126.1,160.7 127.3,157.8 128.6,153.6 129.8,149.8 131.0,145.8 132.2,141.4 133.5,136.7 134.7,132.4 135.9,128.7 137.1,125.6 138.4,123.0 139.6,119.9 140.8,117.0 142.0,114.1 143.3,112.2 144.5,110.4 145.7,108.8 147.0,107.8 148.2,106.5 149.4,105.1 150.6,104.0 151.9,102.3 153.1,100.2 154.3,99.0 155.5,97.4 156.8,96.6 158.0,94.4 159.2,91.9 160.4,90.3 161.7,88.4 162.9,87.3 164.1,86.0 165.4,85.4 166.6,83.6 167.8,82.3 169.0,80.9 170.3,79.6 171.5,78.0 172.7,77.4 173.9,75.9 175.2,75.2 176.4,74.4 177.6,73.5 178.8,72.1 180.1,72.0 181.3,71.1 182.5,70.7 183.8,70.0 185.0,70.1 186.2,69.1 187.4,68.6 188.7,68.4 189.9,67.6 191.1,67.3 192.3,67.1 193.6,67.0 194.8,66.4 196.0,66.5 197.2,66.3 198.5,65.7 199.7,64.6 200.9,63.9 202.2,63.5 203.4,63.5 204.6,64.5 205.8,65.1 207.1,65.5 208.3,65.6 209.5,65.3 210.7,65.1 212.0,64.6 213.2,64.3 214.4,64.2 215.7,64.6 216.9,64.9 218.1,64.7 219.3,64.7 220.6,65.3 221.8,64.8 223.0,64.8 224.2,64.7 225.5,65.8 226.7,65.6 227.9,66.2 229.1,66.4 230.4,66.0 231.6,65.8 232.8,65.5 234.1,65.3 235.3,64.9 236.5,64.7 237.7,64.4 239.0,64.0 240.2,64.3 241.4,64.0 242.6,63.7 243.9,63.9 245.1,63.8 246.3,63.8 247.5,63.6 248.8,64.0 250.0,64.2 251.2,63.8 252.5,64.1 253.7,63.8 254.9,63.4 256.1,63.0 257.4,63.2 258.6,63.1 259.8,63.2 261.0,64.1 262.3,63.7 263.5,62.7 264.7,61.5 265.9,60.8 267.2,60.7 268.4,60.7 269.6,60.1 270.9,60.7 272.1,60.6 273.3,61.7 274.5,61.4 275.8,61.5 277.0,61.2 278.2,60.6 279.4,60.5 280.7,60.1 281.9,59.8 283.1,59.5 284.3,58.4 285.6,58.8 286.8,58.6 288.0,58.0 289.3,58.3 290.5,57.6 291.7,56.6 292.9,56.9 294.2,56.7 295.4,56.7 296.6,56.6 297.8,56.7 299.1,56.5 300.3,56.7 301.5,57.0 302.7,57.1 304.0,57.6 305.2,57.7 306.4,57.8 307.7,57.9 308.9,58.1 310.1,58.1 311.3,57.2 312.6,56.7 313.8,56.0 315.0,56.0 316.2,56.8 317.5,57.5 318.7,58.4 319.9,58.6 321.1,58.3 322.4,58.6 323.6,58.6 324.8,57.8 326.1,57.5 327.3,57.2 328.5,58.1 329.7,58.2 331.0,57.6 332.2,57.3 333.4,57.2 334.6,57.2 335.9,57.1 337.1,56.2 338.3,55.7 339.5,56.0 340.8,55.5 342.0,55.4 343.2,54.8 344.5,54.5 345.7,54.3 346.9,53.9 348.1,54.0 349.4,53.9 350.6,53.5 351.8,53.2 353.0,53.2 354.3,52.1 355.5,51.9 356.7,51.7 357.9,51.6 359.2,51.2 360.4,50.2 361.6,50.2 362.9,49.7 364.1,49.8 365.3,49.5 366.5,49.6 367.8,49.0 369.0,48.5 370.2,48.1 371.4,47.5 372.7,47.1 373.9,46.9 375.1,45.6 376.3,44.9 377.6,43.7 378.8,43.5 380.0,43.5 381.3,43.6 382.5,44.2 383.7,44.9 384.9,44.4 386.2,44.1 387.4,43.8 388.6,42.9 389.8,42.1 391.1,41.9 392.3,41.6 393.5,41.9 394.7,41.0 396.0,40.5 397.2,40.3 398.4,40.8 399.7,40.9 400.9,41.0 402.1,40.9 403.3,40.8 404.6,40.6 405.8,40.8 407.0,41.0 408.2,41.5 409.5,41.8 410.7,42.1 411.9,42.5 413.1,43.5 414.4,44.0 415.6,43.9 416.8,42.9 418.1,43.1 419.3,43.5 420.5,43.6 421.7,43.3 423.0,43.7 424.2,45.1 425.4,45.1 426.6,44.3 427.9,43.8 429.1,43.6 430.3,43.2 431.5,43.0 432.8,42.7 434.0,43.5 435.2,43.4 436.5,44.4 437.7,45.2 438.9,45.3 440.1,45.1 441.4,45.0 442.6,44.9 443.8,44.7 445.0,44.5 446.3,44.3 447.5,45.0 448.7,45.5 449.9,45.1 451.2,45.0 452.4,44.6 453.6,44.5 454.9,45.0 456.1,45.3 457.3,45.5 458.5,45.6 459.8,45.8 461.0,45.4 462.2,45.8 463.4,45.0 464.7,45.2 465.9,45.4 467.1,46.0 468.4,45.7 469.6,46.8 470.8,46.1 472.0,44.7 473.3,44.4 474.5,44.4 475.7,44.2 476.9,45.0 478.2,45.3 479.4,45.7 480.6,45.7 481.8,46.8 483.1,47.5 484.3,47.8 485.5,47.0 486.8,46.5 488.0,46.2 489.2,45.4 490.4,45.3 491.7,46.4 492.9,46.6 494.1,46.9 495.3,47.1 496.6,47.8 497.8,48.3 499.0,47.9 500.2,47.2 501.5,47.1 502.7,46.9 503.9,46.2 505.2,46.6 506.4,47.1 507.6,47.7 508.8,47.9 510.1,48.0 511.3,48.9 512.5,49.5 513.7,50.4 515.0,51.7 516.2,52.5 517.4,51.9 519.4,51.3" fill="none" stroke="#fa4250" stroke-width="1.9" stroke-linejoin="round" stroke-linecap="butt"/>
<polyline points="89.3,204.8 90.5,207.6 91.8,210.1 93.0,212.8 94.2,213.4 95.4,214.3 96.7,215.2 97.9,216.3 99.1,217.3 100.3,217.6 101.6,217.4 102.8,217.4 104.0,218.2 105.2,218.1 106.5,218.5 107.7,219.2 108.9,220.1 110.2,220.8 111.4,220.7 112.6,220.5 113.8,220.7 115.1,221.5 116.3,222.2 117.5,223.4 118.7,224.4 120.0,225.3 121.2,225.5 122.4,226.0 123.6,227.2 124.9,228.5 126.1,229.3 127.3,230.9 128.6,231.2 129.8,232.6 131.0,233.9 132.2,235.7 133.5,237.3 134.7,238.6 135.9,239.6 137.1,240.6 138.4,240.7 139.6,241.0 140.8,241.4 142.0,241.3 143.3,240.8 144.5,240.1 145.7,240.5 147.0,239.9 148.2,239.0 149.4,239.4 150.6,238.7 151.9,238.8 153.1,238.9 154.3,238.0 155.5,237.7 156.8,238.9 158.0,238.9 159.2,239.3 160.4,240.0 161.7,240.7 162.9,242.3 164.1,243.0 165.4,243.2 166.6,244.8 167.8,245.8 169.0,246.4 170.3,247.9 171.5,248.7 172.7,249.5 173.9,249.1 175.2,249.0 176.4,249.6 177.6,249.5 178.8,249.2 180.1,249.1 181.3,250.1 182.5,250.8 183.8,252.0 185.0,253.1 186.2,254.3 187.4,255.0 188.7,256.1 189.9,255.8 191.1,255.6 192.3,255.4 193.6,255.0 194.8,254.0 196.0,253.6 197.2,252.9 198.5,251.9 199.7,251.7 200.9,251.8 202.2,251.4 203.4,251.8 204.6,251.5 205.8,250.9 207.1,249.9 208.3,247.9 209.5,246.4 210.7,245.9 212.0,245.0 213.2,244.2 214.4,243.7 215.7,243.0 216.9,242.2 218.1,240.6 219.3,240.0 220.6,237.8 221.8,237.2 223.0,235.8 224.2,234.7 225.5,233.2 226.7,231.9 227.9,230.9 229.1,228.9 230.4,226.4 231.6,224.7 232.8,222.4 234.1,221.0 235.3,219.7 236.5,218.9 237.7,217.4 239.0,216.3 240.2,214.4 241.4,213.4 242.6,212.2 243.9,211.6 245.1,211.2 246.3,210.0 247.5,208.9 248.8,207.1 250.0,205.8 251.2,205.2 252.5,202.9 253.7,201.6 254.9,200.5 256.1,199.4 257.4,197.7 258.6,196.5 259.8,195.6 261.0,194.9 262.3,193.6 263.5,192.3 264.7,191.6 265.9,190.7 267.2,189.6 268.4,189.0 269.6,188.3 270.9,187.7 272.1,186.4 273.3,186.6 274.5,186.5 275.8,186.0 277.0,186.1 278.2,185.7 279.4,185.6 280.7,185.4 281.9,185.8 283.1,185.5 284.3,184.4 285.6,184.4 286.8,183.6 288.0,183.5 289.3,182.9 290.5,182.6 291.7,182.0 292.9,180.8 294.2,179.9 295.4,179.6 296.6,179.3 297.8,179.2 299.1,179.5 300.3,178.6 301.5,178.4 302.7,177.5 304.0,176.7 305.2,175.5 306.4,174.8 307.7,174.2 308.9,173.2 310.1,172.1 311.3,171.4 312.6,171.4 313.8,171.6 315.0,171.1 316.2,171.4 317.5,171.2 318.7,170.9 319.9,171.3 321.1,171.1 322.4,170.8 323.6,170.5 324.8,169.1 326.1,169.8 327.3,170.6 328.5,169.7 329.7,169.3 331.0,169.9 332.2,170.9 333.4,170.9 334.6,170.9 335.9,170.4 337.1,169.9 338.3,170.1 339.5,169.5 340.8,170.3 342.0,170.6 343.2,170.5 344.5,170.3 345.7,171.2 346.9,171.1 348.1,170.5 349.4,170.4 350.6,169.9 351.8,170.7 353.0,170.4 354.3,170.6 355.5,171.0 356.7,171.6 357.9,171.2 359.2,171.8 360.4,171.9 361.6,172.3 362.9,171.8 364.1,172.5 365.3,172.4 366.5,172.2 367.8,172.0 369.0,171.2 370.2,170.4 371.4,171.6 372.7,171.7 373.9,173.6 375.1,172.9 376.3,171.8 377.6,172.1 378.8,171.7 380.0,171.2 381.3,170.8 382.5,170.6 383.7,169.9 384.9,170.3 386.2,170.4 387.4,169.9 388.6,169.2 389.8,169.1 391.1,168.9 392.3,168.3 393.5,167.4 394.7,166.8 396.0,165.7 397.2,165.5 398.4,165.6 399.7,165.7 400.9,165.7 402.1,165.7 403.3,165.7 404.6,167.2 405.8,168.2 407.0,168.4 408.2,169.0 409.5,170.0 410.7,170.7 411.9,170.8 413.1,171.1 414.4,171.4 415.6,172.3 416.8,173.1 418.1,173.8 419.3,173.9 420.5,174.5 421.7,174.8 423.0,175.9 424.2,176.3 425.4,176.7 426.6,177.7 427.9,177.9 429.1,178.1 430.3,178.1 431.5,178.7 432.8,179.7 434.0,179.5 435.2,180.5 436.5,180.3 437.7,180.5 438.9,181.4 440.1,181.3 441.4,181.6 442.6,181.8 443.8,182.7 445.0,182.7 446.3,182.2 447.5,181.8 448.7,181.9 449.9,181.4 451.2,182.2 452.4,183.1 453.6,183.6 454.9,183.5 456.1,184.5 457.3,184.4 458.5,184.9 459.8,184.9 461.0,184.7 462.2,183.8 463.4,184.3 464.7,183.3 465.9,183.0 467.1,182.8 468.4,182.6 469.6,181.3 470.8,181.3 472.0,180.2 473.3,179.4 474.5,179.7 475.7,179.0 476.9,178.5 478.2,177.7 479.4,177.6 480.6,176.5 481.8,176.8 483.1,177.0 484.3,176.8 485.5,176.1 486.8,176.9 488.0,176.6 489.2,176.4 490.4,176.4 491.7,176.1 492.9,176.4 494.1,176.7 495.3,177.4 496.6,177.8 497.8,179.5 499.0,180.7 500.2,181.7 501.5,182.5 502.7,182.9 503.9,184.2 505.2,184.0 506.4,184.6 507.6,185.2 508.8,185.4 510.1,185.4 511.3,185.5 512.5,186.6 513.7,186.8 515.0,187.3 516.2,186.9 517.4,187.3 519.4,188.2" fill="none" stroke="#7dc41f" stroke-width="1.9" stroke-linejoin="round" stroke-linecap="butt"/>
<polyline points="89.3,307.0 90.5,310.3 91.8,313.7 93.0,316.5 94.2,318.2 95.4,319.9 96.7,318.9 97.9,317.9 99.1,315.2 100.3,313.8 101.6,311.5 102.8,309.1 104.0,307.3 105.2,305.2 106.5,304.0 107.7,303.4 108.9,303.1 110.2,303.6 111.4,305.5 112.6,307.4 113.8,308.9 115.1,310.6 116.3,311.9 117.5,312.6 118.7,312.7 120.0,313.8 121.2,313.7 122.4,312.0 123.6,310.4 124.9,306.5 126.1,300.3 127.3,293.5 128.6,289.0 129.8,285.0 131.0,282.1 132.2,279.7 133.5,277.9 134.7,276.8 135.9,275.3 137.1,272.8 138.4,270.8 139.6,269.6 140.8,268.3 142.0,267.6 143.3,266.4 144.5,265.2 145.7,263.4 147.0,261.7 148.2,260.1 149.4,258.3 150.6,257.0 151.9,254.8 153.1,254.3 154.3,253.4 155.5,253.5 156.8,252.1 158.0,250.4 159.2,249.6 160.4,249.5 161.7,249.1 162.9,248.6 164.1,248.6 165.4,248.2 166.6,249.2 167.8,248.7 169.0,249.4 170.3,250.0 171.5,250.1 172.7,250.7 173.9,249.6 175.2,248.5 176.4,246.6 177.6,244.8 178.8,243.4 180.1,242.2 181.3,241.2 182.5,239.2 183.8,237.8 185.0,236.5 186.2,235.8 187.4,234.3 188.7,233.6 189.9,232.3 191.1,230.9 192.3,229.8 193.6,228.3 194.8,226.6 196.0,226.3 197.2,225.8 198.5,226.3 199.7,225.7 200.9,225.2 202.2,224.3 203.4,223.7 204.6,223.3 205.8,223.2 207.1,224.3 208.3,224.3 209.5,223.5 210.7,223.0 212.0,222.0 213.2,220.8 214.4,220.6 215.7,219.3 216.9,217.7 218.1,215.9 219.3,214.1 220.6,212.8 221.8,211.5 223.0,209.3 224.2,207.3 225.5,204.9 226.7,203.1 227.9,201.7 229.1,199.4 230.4,197.5 231.6,195.3 232.8,193.2 234.1,191.5 235.3,189.1 236.5,187.7 237.7,186.1 239.0,184.3 240.2,181.6 241.4,179.3 242.6,178.0 243.9,176.9 245.1,175.7 246.3,174.5 247.5,173.4 248.8,172.0 250.0,171.1 251.2,169.3 252.5,168.4 253.7,167.4 254.9,165.9 256.1,166.2 257.4,164.5 258.6,163.0 259.8,161.0 261.0,160.0 262.3,158.9 263.5,158.2 264.7,156.8 265.9,156.2 267.2,154.4 268.4,153.6 269.6,152.2 270.9,151.7 272.1,151.3 273.3,149.9 274.5,149.5 275.8,148.7 277.0,147.0 278.2,145.8 279.4,144.9 280.7,144.3 281.9,143.9 283.1,142.5 284.3,141.1 285.6,140.1 286.8,138.2 288.0,138.0 289.3,137.0 290.5,135.9 291.7,135.4 292.9,134.1 294.2,132.7 295.4,132.3 296.6,131.2 297.8,130.4 299.1,129.5 300.3,128.9 301.5,128.8 302.7,128.8 304.0,128.1 305.2,128.6 306.4,128.2 307.7,127.9 308.9,127.8 310.1,126.9 311.3,126.5 312.6,126.2 313.8,125.7 315.0,124.7 316.2,124.4 317.5,123.5 318.7,122.5 319.9,121.6 321.1,121.3 322.4,120.6 323.6,120.8 324.8,120.6 326.1,120.1 327.3,120.0 328.5,119.5 329.7,118.3 331.0,118.5 332.2,116.9 333.4,116.4 334.6,115.0 335.9,114.6 337.1,114.2 338.3,113.4 339.5,113.5 340.8,113.1 342.0,112.7 343.2,111.9 344.5,112.2 345.7,111.7 346.9,111.6 348.1,110.6 349.4,111.0 350.6,110.4 351.8,110.4 353.0,109.7 354.3,109.2 355.5,108.9 356.7,108.3 357.9,108.6 359.2,107.7 360.4,107.0 361.6,106.9 362.9,106.3 364.1,105.3 365.3,104.8 366.5,104.7 367.8,104.2 369.0,103.9 370.2,102.4 371.4,101.8 372.7,100.6 373.9,99.8 375.1,99.5 376.3,99.1 377.6,100.0 378.8,99.6 380.0,99.5 381.3,99.5 382.5,100.0 383.7,99.4 384.9,98.7 386.2,99.1 387.4,98.7 388.6,99.2 389.8,98.3 391.1,97.8 392.3,97.8 393.5,96.9 394.7,96.8 396.0,97.2 397.2,96.9 398.4,97.2 399.7,96.7 400.9,96.9 402.1,97.7 403.3,98.0 404.6,97.5 405.8,97.2 407.0,96.9 408.2,97.2 409.5,97.2 410.7,96.4 411.9,96.0 413.1,95.6 414.4,95.9 415.6,96.0 416.8,96.1 418.1,96.5 419.3,96.8 420.5,96.8 421.7,97.0 423.0,96.9 424.2,97.3 425.4,97.4 426.6,96.2 427.9,96.9 429.1,96.5 430.3,96.6 431.5,96.3 432.8,96.8 434.0,96.7 435.2,96.9 436.5,96.8 437.7,97.0 438.9,97.1 440.1,96.6 441.4,96.6 442.6,96.5 443.8,96.6 445.0,96.9 446.3,96.8 447.5,97.1 448.7,96.5 449.9,96.1 451.2,95.8 452.4,95.3 453.6,95.4 454.9,94.9 456.1,94.6 457.3,95.0 458.5,95.0 459.8,95.3 461.0,95.5 462.2,96.1 463.4,96.7 464.7,96.7 465.9,96.4 467.1,96.9 468.4,97.8 469.6,97.4 470.8,96.6 472.0,96.2 473.3,95.1 474.5,94.5 475.7,95.3 476.9,95.2 478.2,96.0 479.4,96.0 480.6,96.6 481.8,97.0 483.1,96.5 484.3,96.8 485.5,95.9 486.8,96.2 488.0,95.9 489.2,96.8 490.4,96.6 491.7,97.6 492.9,98.7 494.1,98.5 495.3,98.9 496.6,99.3 497.8,100.3 499.0,99.5 500.2,98.6 501.5,98.3 502.7,98.4 503.9,98.8 505.2,99.0 506.4,100.4 507.6,100.3 508.8,101.4 510.1,101.8 511.3,102.4 512.5,104.2 513.7,104.9 515.0,105.8 516.2,105.9 517.4,105.6 519.4,106.0" fill="none" stroke="#0e7acf" stroke-width="1.9" stroke-linejoin="round" stroke-linecap="butt"/>
<polyline points="89.3,190.5 90.5,190.8 91.8,191.6 93.0,192.1 94.2,192.4 95.4,193.5 96.7,193.9 97.9,194.2 99.1,195.0 100.3,195.9 101.6,196.2 102.8,196.5 104.0,196.2 105.2,196.6 106.5,196.4 107.7,195.5 108.9,196.0 110.2,197.7 111.4,198.7 112.6,199.8 113.8,200.5 115.1,200.7 116.3,200.2 117.5,200.0 118.7,200.1 120.0,200.8 121.2,201.4 122.4,201.7 123.6,201.9 124.9,200.6 126.1,200.5 127.3,200.7 128.6,200.5 129.8,199.8 131.0,199.8 132.2,199.3 133.5,199.0 134.7,199.2 135.9,199.8 137.1,200.2 138.4,201.0 139.6,201.7 140.8,202.8 142.0,201.5 143.3,201.6 144.5,201.7 145.7,201.7 147.0,201.4 148.2,201.1 149.4,201.0 150.6,200.4 151.9,200.0 153.1,199.7 154.3,199.5 155.5,199.4 156.8,198.9 158.0,199.4 159.2,199.4 160.4,199.1 161.7,198.5 162.9,198.3 164.1,198.5 165.4,198.6 166.6,198.5 167.8,199.0 169.0,198.5 170.3,199.2 171.5,198.5 172.7,199.0 173.9,198.6 175.2,198.1 176.4,198.4 177.6,198.6 178.8,198.6 180.1,198.7 181.3,198.3 182.5,197.6 183.8,197.6 185.0,197.9 186.2,197.8 187.4,196.8 188.7,196.5 189.9,196.6 191.1,196.8 192.3,196.2 193.6,196.5 194.8,196.6 196.0,196.7 197.2,197.9 198.5,197.9 199.7,197.5 200.9,197.3 202.2,196.6 203.4,196.4 204.6,196.5 205.8,196.8 207.1,197.0 208.3,197.5 209.5,197.6 210.7,197.7 212.0,198.0 213.2,198.5 214.4,198.6 215.7,199.1 216.9,199.3 218.1,199.7 219.3,200.0 220.6,200.4 221.8,201.0 223.0,200.9 224.2,200.1 225.5,199.9 226.7,198.8 227.9,198.6 229.1,198.1 230.4,198.1 231.6,198.0 232.8,198.0 234.1,197.6 235.3,196.6 236.5,196.3 237.7,196.9 239.0,196.5 240.2,196.2 241.4,196.1 242.6,195.1 243.9,195.4 245.1,195.7 246.3,195.4 247.5,195.6 248.8,196.0 250.0,195.9 251.2,195.8 252.5,195.6 253.7,195.5 254.9,195.6 256.1,195.4 257.4,194.9 258.6,194.7 259.8,194.3 261.0,195.0 262.3,195.0 263.5,195.5 264.7,195.8 265.9,195.0 267.2,195.0 268.4,195.3 269.6,194.5 270.9,194.9 272.1,195.0 273.3,194.9 274.5,195.2 275.8,194.7 277.0,195.0 278.2,195.6 279.4,195.3 280.7,195.8 281.9,195.4 283.1,195.4 284.3,195.9 285.6,196.0 286.8,196.2 288.0,196.5 289.3,196.8 290.5,196.1 291.7,196.7 292.9,196.4 294.2,196.5 295.4,196.3 296.6,197.1 297.8,197.5 299.1,197.0 300.3,197.3 301.5,197.8 302.7,198.4 304.0,199.0 305.2,199.3 306.4,199.3 307.7,199.5 308.9,199.6 310.1,199.6 311.3,200.4 312.6,200.4 313.8,200.7 315.0,201.2 316.2,201.1 317.5,202.0 318.7,202.0 319.9,202.7 321.1,202.6 322.4,203.2 323.6,203.3 324.8,203.2 326.1,203.3 327.3,203.2 328.5,204.1 329.7,204.0 331.0,203.9 332.2,204.9 333.4,204.1 334.6,203.8 335.9,203.1 337.1,201.9 338.3,201.6 339.5,201.9 340.8,201.4 342.0,200.5 343.2,201.0 344.5,200.9 345.7,201.5 346.9,201.6 348.1,202.3 349.4,202.3 350.6,202.2 351.8,203.0 353.0,203.3 354.3,204.0 355.5,203.4 356.7,203.5 357.9,202.8 359.2,203.5 360.4,202.8 361.6,202.7 362.9,201.9 364.1,201.7 365.3,201.5 366.5,201.6 367.8,201.5 369.0,201.8 370.2,201.6 371.4,201.7 372.7,201.2 373.9,201.3 375.1,200.5 376.3,201.0 377.6,200.9 378.8,200.1 380.0,200.5 381.3,200.1 382.5,200.6 383.7,200.1 384.9,199.9 386.2,199.8 387.4,200.1 388.6,200.8 389.8,200.6 391.1,200.1 392.3,200.4 393.5,200.6 394.7,200.8 396.0,201.1 397.2,200.9 398.4,201.6 399.7,201.8 400.9,201.8 402.1,201.7 403.3,201.6 404.6,201.8 405.8,201.5 407.0,201.0 408.2,200.8 409.5,200.0 410.7,200.3 411.9,200.5 413.1,200.9 414.4,201.4 415.6,202.0 416.8,202.3 418.1,202.1 419.3,202.0 420.5,202.1 421.7,202.0 423.0,201.3 424.2,201.1 425.4,201.6 426.6,202.0 427.9,202.2 429.1,202.7 430.3,201.7 431.5,200.9 432.8,200.9 434.0,201.2 435.2,201.6 436.5,202.3 437.7,202.3 438.9,202.9 440.1,203.3 441.4,203.3 442.6,203.0 443.8,203.7 445.0,203.9 446.3,203.4 447.5,204.2 448.7,204.0 449.9,204.3 451.2,204.7 452.4,204.6 453.6,204.2 454.9,203.9 456.1,204.0 457.3,203.9 458.5,203.7 459.8,204.1 461.0,204.5 462.2,204.3 463.4,203.9 464.7,204.1 465.9,203.7 467.1,204.2 468.4,204.8 469.6,205.1 470.8,205.0 472.0,206.2 473.3,205.9 474.5,206.1 475.7,206.0 476.9,205.6 478.2,206.2 479.4,205.8 480.6,206.0 481.8,206.0 483.1,206.2 484.3,205.5 485.5,205.7 486.8,205.9 488.0,205.8 489.2,205.3 490.4,205.7 491.7,206.3 492.9,207.1 494.1,207.1 495.3,206.7 496.6,207.3 497.8,207.5 499.0,207.4 500.2,207.7 501.5,207.0 502.7,206.2 503.9,204.5 505.2,204.6 506.4,203.8 507.6,203.8 508.8,204.3 510.1,204.3 511.3,204.5 512.5,204.7 513.7,205.6 515.0,205.5 516.2,204.4 517.4,204.7 519.4,205.1" fill="none" stroke="#5c3a97" stroke-width="1.9" stroke-linejoin="round" stroke-linecap="butt"/>
</g>
<rect x="68.2" y="8.5" width="472.2" height="375.0" fill="none" stroke="#2a2a2a" stroke-width="0.8"/>
<g stroke="#2a2a2a" stroke-width="0.8"><line x1="89.60" y1="383.5" x2="89.60" y2="386.4"/><line x1="138.67" y1="383.5" x2="138.67" y2="386.4"/><line x1="187.74" y1="383.5" x2="187.74" y2="386.4"/><line x1="236.80" y1="383.5" x2="236.80" y2="386.4"/><line x1="285.87" y1="383.5" x2="285.87" y2="386.4"/><line x1="334.94" y1="383.5" x2="334.94" y2="386.4"/><line x1="384.01" y1="383.5" x2="384.01" y2="386.4"/><line x1="433.08" y1="383.5" x2="433.08" y2="386.4"/><line x1="482.14" y1="383.5" x2="482.14" y2="386.4"/><line x1="531.21" y1="383.5" x2="531.21" y2="386.4"/><line x1="68.2" y1="25.50" x2="65.3" y2="25.50"/><line x1="68.2" y1="75.50" x2="65.3" y2="75.50"/><line x1="68.2" y1="125.50" x2="65.3" y2="125.50"/><line x1="68.2" y1="175.50" x2="65.3" y2="175.50"/><line x1="68.2" y1="225.50" x2="65.3" y2="225.50"/><line x1="68.2" y1="275.50" x2="65.3" y2="275.50"/><line x1="68.2" y1="325.50" x2="65.3" y2="325.50"/><line x1="68.2" y1="375.50" x2="65.3" y2="375.50"/></g>
<g fill="#111111" stroke="#111111" stroke-width="0.25">
<text x="89.60" y="398.0" text-anchor="middle">0</text>
<text x="138.67" y="398.0" text-anchor="middle">40</text>
<text x="187.74" y="398.0" text-anchor="middle">80</text>
<text x="236.80" y="398.0" text-anchor="middle">120</text>
<text x="285.87" y="398.0" text-anchor="middle">160</text>
<text x="334.94" y="398.0" text-anchor="middle">200</text>
<text x="384.01" y="398.0" text-anchor="middle">240</text>
<text x="433.08" y="398.0" text-anchor="middle">280</text>
<text x="482.14" y="398.0" text-anchor="middle">320</text>
<text x="531.21" y="398.0" text-anchor="middle">360</text>
<text x="62.0" y="29.40" text-anchor="end">−0.050</text>
<text x="62.0" y="79.40" text-anchor="end">−0.075</text>
<text x="62.0" y="129.40" text-anchor="end">−0.100</text>
<text x="62.0" y="179.40" text-anchor="end">−0.125</text>
<text x="62.0" y="229.40" text-anchor="end">−0.150</text>
<text x="62.0" y="279.40" text-anchor="end">−0.175</text>
<text x="62.0" y="329.40" text-anchor="end">−0.200</text>
<text x="62.0" y="379.40" text-anchor="end">−0.225</text>
<text x="304.3" y="412.0" text-anchor="middle">Episode</text>
<text transform="translate(17.2,197.3) rotate(-90)" text-anchor="middle">Rewards</text>
</g>
<rect x="73.4" y="294.6" width="88.8" height="83.3" rx="2.2" ry="2.2" fill="#ffffff" fill-opacity="0.8" stroke="#cccccc" stroke-opacity="0.8" stroke-width="0.8"/>
<line x1="77.2" y1="303.6" x2="100.9" y2="303.6" stroke="#fdbe2e" stroke-width="1.9"/>
<text x="109.0" y="307.7" fill="#111111" stroke="#111111" stroke-width="0.25">MADDPG</text>
<line x1="77.2" y1="319.6" x2="100.9" y2="319.6" stroke="#fa4250" stroke-width="1.9"/>
<text x="109.0" y="323.7" fill="#111111" stroke="#111111" stroke-width="0.25">MASAC</text>
<line x1="77.2" y1="335.6" x2="100.9" y2="335.6" stroke="#7dc41f" stroke-width="1.9"/>
<text x="109.0" y="339.7" fill="#111111" stroke="#111111" stroke-width="0.25">COMA</text>
<line x1="77.2" y1="351.6" x2="100.9" y2="351.6" stroke="#0e7acf" stroke-width="1.9"/>
<text x="109.0" y="355.7" fill="#111111" stroke="#111111" stroke-width="0.25">MATD3</text>
<line x1="77.2" y1="367.6" x2="100.9" y2="367.6" stroke="#5c3a97" stroke-width="1.9"/>
<text x="109.0" y="371.7" fill="#111111" stroke="#111111" stroke-width="0.25">MAPPO</text>
</svg>
</body></html>
